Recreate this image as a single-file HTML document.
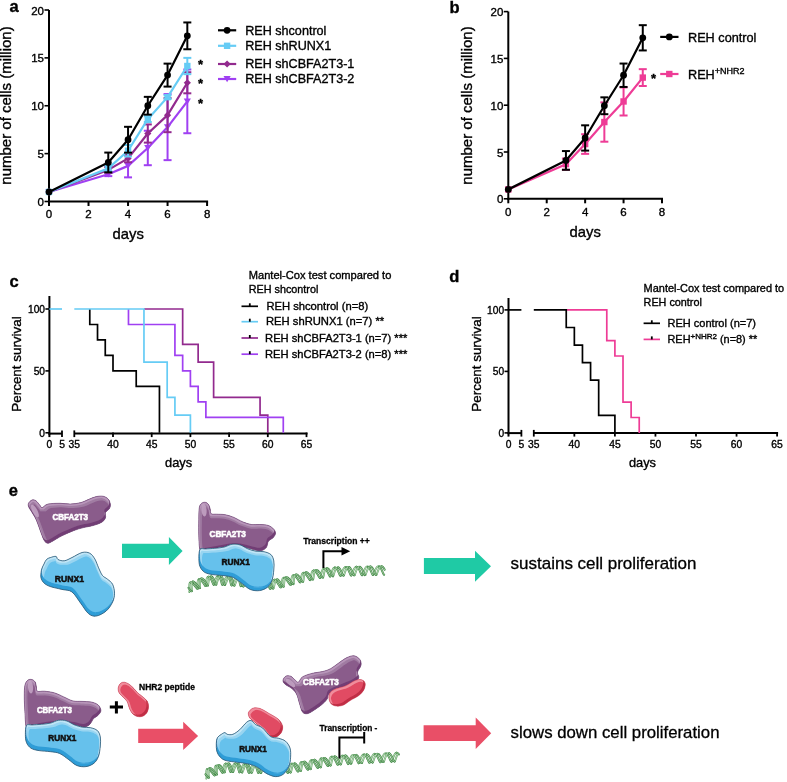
<!DOCTYPE html>
<html><head><meta charset="utf-8"><style>
html,body{margin:0;padding:0;background:#fff;width:787px;height:782px;overflow:hidden}
svg{display:block;will-change:transform}
text{font-family:"Liberation Sans",sans-serif}
.ch text{stroke:#000;stroke-width:0.35px}
</style></head><body>
<svg width="787" height="782" viewBox="0 0 787 782" font-family="Liberation Sans">
<rect width="787" height="782" fill="#fff"/>
<g class="ch">
<text x="9.40" y="12.20" font-size="16.5" text-anchor="start" font-weight="bold" fill="#000" >a</text>
<text x="449.60" y="12.70" font-size="16.5" text-anchor="start" font-weight="bold" fill="#000" >b</text>
<text x="9.60" y="287.00" font-size="16.5" text-anchor="start" font-weight="bold" fill="#000" >c</text>
<text x="449.20" y="282.00" font-size="16.5" text-anchor="start" font-weight="bold" fill="#000" >d</text>
<text x="8.80" y="495.50" font-size="16.5" text-anchor="start" font-weight="bold" fill="#000" >e</text>
<line x1="49.00" y1="10.00" x2="49.00" y2="202.50" stroke="#000" stroke-width="2" stroke-linecap="butt"/>
<line x1="48.00" y1="201.50" x2="208.08" y2="201.50" stroke="#000" stroke-width="2" stroke-linecap="butt"/>
<line x1="44.50" y1="201.50" x2="49.00" y2="201.50" stroke="#000" stroke-width="1.6" stroke-linecap="butt"/>
<text x="44.00" y="206.10" font-size="11.5" text-anchor="end" font-weight="normal" fill="#000" >0</text>
<line x1="44.50" y1="153.62" x2="49.00" y2="153.62" stroke="#000" stroke-width="1.6" stroke-linecap="butt"/>
<text x="44.00" y="158.22" font-size="11.5" text-anchor="end" font-weight="normal" fill="#000" >5</text>
<line x1="44.50" y1="105.75" x2="49.00" y2="105.75" stroke="#000" stroke-width="1.6" stroke-linecap="butt"/>
<text x="44.00" y="110.35" font-size="11.5" text-anchor="end" font-weight="normal" fill="#000" >10</text>
<line x1="44.50" y1="57.88" x2="49.00" y2="57.88" stroke="#000" stroke-width="1.6" stroke-linecap="butt"/>
<text x="44.00" y="62.48" font-size="11.5" text-anchor="end" font-weight="normal" fill="#000" >15</text>
<line x1="44.50" y1="10.00" x2="49.00" y2="10.00" stroke="#000" stroke-width="1.6" stroke-linecap="butt"/>
<text x="44.00" y="14.60" font-size="11.5" text-anchor="end" font-weight="normal" fill="#000" >20</text>
<line x1="49.00" y1="201.50" x2="49.00" y2="206.00" stroke="#000" stroke-width="2" stroke-linecap="butt"/>
<text x="49.00" y="217.80" font-size="11.5" text-anchor="middle" font-weight="normal" fill="#000" >0</text>
<line x1="88.52" y1="201.50" x2="88.52" y2="206.00" stroke="#000" stroke-width="2" stroke-linecap="butt"/>
<text x="88.52" y="217.80" font-size="11.5" text-anchor="middle" font-weight="normal" fill="#000" >2</text>
<line x1="128.04" y1="201.50" x2="128.04" y2="206.00" stroke="#000" stroke-width="2" stroke-linecap="butt"/>
<text x="128.04" y="217.80" font-size="11.5" text-anchor="middle" font-weight="normal" fill="#000" >4</text>
<line x1="167.56" y1="201.50" x2="167.56" y2="206.00" stroke="#000" stroke-width="2" stroke-linecap="butt"/>
<text x="167.56" y="217.80" font-size="11.5" text-anchor="middle" font-weight="normal" fill="#000" >6</text>
<line x1="207.08" y1="201.50" x2="207.08" y2="206.00" stroke="#000" stroke-width="2" stroke-linecap="butt"/>
<text x="207.08" y="217.80" font-size="11.5" text-anchor="middle" font-weight="normal" fill="#000" >8</text>
<text x="128.20" y="238.70" font-size="14.8" text-anchor="middle" font-weight="normal" fill="#000" >days</text>
<text x="10.9" y="105.5" font-size="15" text-anchor="middle" transform="rotate(-90 10.9 105.5)">number of cells (million)</text>
<line x1="108.28" y1="172.30" x2="108.28" y2="176.13" stroke="#A040F2" stroke-width="2" stroke-linecap="butt"/>
<line x1="104.28" y1="172.30" x2="112.28" y2="172.30" stroke="#A040F2" stroke-width="2" stroke-linecap="butt"/>
<line x1="104.28" y1="176.13" x2="112.28" y2="176.13" stroke="#A040F2" stroke-width="2" stroke-linecap="butt"/>
<line x1="128.04" y1="154.39" x2="128.04" y2="177.37" stroke="#A040F2" stroke-width="2" stroke-linecap="butt"/>
<line x1="124.04" y1="154.39" x2="132.04" y2="154.39" stroke="#A040F2" stroke-width="2" stroke-linecap="butt"/>
<line x1="124.04" y1="177.37" x2="132.04" y2="177.37" stroke="#A040F2" stroke-width="2" stroke-linecap="butt"/>
<line x1="147.80" y1="130.74" x2="147.80" y2="165.21" stroke="#A040F2" stroke-width="2" stroke-linecap="butt"/>
<line x1="143.80" y1="130.74" x2="151.80" y2="130.74" stroke="#A040F2" stroke-width="2" stroke-linecap="butt"/>
<line x1="143.80" y1="165.21" x2="151.80" y2="165.21" stroke="#A040F2" stroke-width="2" stroke-linecap="butt"/>
<line x1="167.56" y1="94.07" x2="167.56" y2="160.14" stroke="#A040F2" stroke-width="2" stroke-linecap="butt"/>
<line x1="163.56" y1="94.07" x2="171.56" y2="94.07" stroke="#A040F2" stroke-width="2" stroke-linecap="butt"/>
<line x1="163.56" y1="160.14" x2="171.56" y2="160.14" stroke="#A040F2" stroke-width="2" stroke-linecap="butt"/>
<line x1="187.32" y1="69.46" x2="187.32" y2="133.23" stroke="#A040F2" stroke-width="2" stroke-linecap="butt"/>
<line x1="183.32" y1="69.46" x2="191.32" y2="69.46" stroke="#A040F2" stroke-width="2" stroke-linecap="butt"/>
<line x1="183.32" y1="133.23" x2="191.32" y2="133.23" stroke="#A040F2" stroke-width="2" stroke-linecap="butt"/>
<polyline points="49.00,191.93 108.28,174.21 128.04,165.88 147.80,147.98 167.56,127.10 187.32,101.35" fill="none" stroke="#A040F2" stroke-width="2.2" stroke-linejoin="round"/>
<path d="M45.40,189.05 L52.60,189.05 L49.00,195.17Z" fill="#A040F2"/>
<path d="M104.68,171.33 L111.88,171.33 L108.28,177.45Z" fill="#A040F2"/>
<path d="M124.44,163.00 L131.64,163.00 L128.04,169.12Z" fill="#A040F2"/>
<path d="M144.20,145.10 L151.40,145.10 L147.80,151.22Z" fill="#A040F2"/>
<path d="M163.96,124.22 L171.16,124.22 L167.56,130.34Z" fill="#A040F2"/>
<path d="M183.72,98.47 L190.92,98.47 L187.32,104.59Z" fill="#A040F2"/>
<line x1="108.28" y1="167.03" x2="108.28" y2="172.78" stroke="#922A8E" stroke-width="2" stroke-linecap="butt"/>
<line x1="104.28" y1="167.03" x2="112.28" y2="167.03" stroke="#922A8E" stroke-width="2" stroke-linecap="butt"/>
<line x1="104.28" y1="172.78" x2="112.28" y2="172.78" stroke="#922A8E" stroke-width="2" stroke-linecap="butt"/>
<line x1="128.04" y1="154.58" x2="128.04" y2="162.24" stroke="#922A8E" stroke-width="2" stroke-linecap="butt"/>
<line x1="124.04" y1="154.58" x2="132.04" y2="154.58" stroke="#922A8E" stroke-width="2" stroke-linecap="butt"/>
<line x1="124.04" y1="162.24" x2="132.04" y2="162.24" stroke="#922A8E" stroke-width="2" stroke-linecap="butt"/>
<line x1="147.80" y1="124.42" x2="147.80" y2="142.61" stroke="#922A8E" stroke-width="2" stroke-linecap="butt"/>
<line x1="143.80" y1="124.42" x2="151.80" y2="124.42" stroke="#922A8E" stroke-width="2" stroke-linecap="butt"/>
<line x1="143.80" y1="142.61" x2="151.80" y2="142.61" stroke="#922A8E" stroke-width="2" stroke-linecap="butt"/>
<line x1="167.56" y1="98.09" x2="167.56" y2="132.18" stroke="#922A8E" stroke-width="2" stroke-linecap="butt"/>
<line x1="163.56" y1="98.09" x2="171.56" y2="98.09" stroke="#922A8E" stroke-width="2" stroke-linecap="butt"/>
<line x1="163.56" y1="132.18" x2="171.56" y2="132.18" stroke="#922A8E" stroke-width="2" stroke-linecap="butt"/>
<line x1="187.32" y1="72.24" x2="187.32" y2="93.30" stroke="#922A8E" stroke-width="2" stroke-linecap="butt"/>
<line x1="183.32" y1="72.24" x2="191.32" y2="72.24" stroke="#922A8E" stroke-width="2" stroke-linecap="butt"/>
<line x1="183.32" y1="93.30" x2="191.32" y2="93.30" stroke="#922A8E" stroke-width="2" stroke-linecap="butt"/>
<polyline points="49.00,191.93 108.28,169.90 128.04,158.41 147.80,133.52 167.56,115.13 187.32,82.77" fill="none" stroke="#922A8E" stroke-width="2.2" stroke-linejoin="round"/>
<path d="M49.00,188.33 L52.60,191.93 L49.00,195.53 L45.40,191.93Z" fill="#922A8E"/>
<path d="M108.28,166.30 L111.88,169.90 L108.28,173.50 L104.68,169.90Z" fill="#922A8E"/>
<path d="M128.04,154.81 L131.64,158.41 L128.04,162.01 L124.44,158.41Z" fill="#922A8E"/>
<path d="M147.80,129.92 L151.40,133.52 L147.80,137.12 L144.20,133.52Z" fill="#922A8E"/>
<path d="M167.56,111.53 L171.16,115.13 L167.56,118.73 L163.96,115.13Z" fill="#922A8E"/>
<path d="M187.32,79.17 L190.92,82.77 L187.32,86.37 L183.72,82.77Z" fill="#922A8E"/>
<line x1="108.28" y1="165.50" x2="108.28" y2="171.24" stroke="#66CCF5" stroke-width="2" stroke-linecap="butt"/>
<line x1="104.28" y1="165.50" x2="112.28" y2="165.50" stroke="#66CCF5" stroke-width="2" stroke-linecap="butt"/>
<line x1="104.28" y1="171.24" x2="112.28" y2="171.24" stroke="#66CCF5" stroke-width="2" stroke-linecap="butt"/>
<line x1="128.04" y1="145.01" x2="128.04" y2="156.50" stroke="#66CCF5" stroke-width="2" stroke-linecap="butt"/>
<line x1="124.04" y1="145.01" x2="132.04" y2="145.01" stroke="#66CCF5" stroke-width="2" stroke-linecap="butt"/>
<line x1="124.04" y1="156.50" x2="132.04" y2="156.50" stroke="#66CCF5" stroke-width="2" stroke-linecap="butt"/>
<line x1="147.80" y1="116.28" x2="147.80" y2="122.03" stroke="#66CCF5" stroke-width="2" stroke-linecap="butt"/>
<line x1="143.80" y1="116.28" x2="151.80" y2="116.28" stroke="#66CCF5" stroke-width="2" stroke-linecap="butt"/>
<line x1="143.80" y1="122.03" x2="151.80" y2="122.03" stroke="#66CCF5" stroke-width="2" stroke-linecap="butt"/>
<line x1="167.56" y1="95.22" x2="167.56" y2="99.05" stroke="#66CCF5" stroke-width="2" stroke-linecap="butt"/>
<line x1="163.56" y1="95.22" x2="171.56" y2="95.22" stroke="#66CCF5" stroke-width="2" stroke-linecap="butt"/>
<line x1="163.56" y1="99.05" x2="171.56" y2="99.05" stroke="#66CCF5" stroke-width="2" stroke-linecap="butt"/>
<line x1="187.32" y1="57.88" x2="187.32" y2="74.15" stroke="#66CCF5" stroke-width="2" stroke-linecap="butt"/>
<line x1="183.32" y1="57.88" x2="191.32" y2="57.88" stroke="#66CCF5" stroke-width="2" stroke-linecap="butt"/>
<line x1="183.32" y1="74.15" x2="191.32" y2="74.15" stroke="#66CCF5" stroke-width="2" stroke-linecap="butt"/>
<polyline points="49.00,191.93 108.28,168.37 128.04,150.75 147.80,119.16 167.56,97.13 187.32,66.01" fill="none" stroke="#66CCF5" stroke-width="2.2" stroke-linejoin="round"/>
<rect x="45.80" y="188.73" width="6.4" height="6.4" fill="#66CCF5"/>
<rect x="105.08" y="165.17" width="6.4" height="6.4" fill="#66CCF5"/>
<rect x="124.84" y="147.55" width="6.4" height="6.4" fill="#66CCF5"/>
<rect x="144.60" y="115.96" width="6.4" height="6.4" fill="#66CCF5"/>
<rect x="164.36" y="93.93" width="6.4" height="6.4" fill="#66CCF5"/>
<rect x="184.12" y="62.81" width="6.4" height="6.4" fill="#66CCF5"/>
<line x1="108.28" y1="152.57" x2="108.28" y2="172.30" stroke="#000000" stroke-width="2" stroke-linecap="butt"/>
<line x1="104.28" y1="152.57" x2="112.28" y2="152.57" stroke="#000000" stroke-width="2" stroke-linecap="butt"/>
<line x1="104.28" y1="172.30" x2="112.28" y2="172.30" stroke="#000000" stroke-width="2" stroke-linecap="butt"/>
<line x1="128.04" y1="126.81" x2="128.04" y2="152.67" stroke="#000000" stroke-width="2" stroke-linecap="butt"/>
<line x1="124.04" y1="126.81" x2="132.04" y2="126.81" stroke="#000000" stroke-width="2" stroke-linecap="butt"/>
<line x1="124.04" y1="152.67" x2="132.04" y2="152.67" stroke="#000000" stroke-width="2" stroke-linecap="butt"/>
<line x1="147.80" y1="96.85" x2="147.80" y2="114.65" stroke="#000000" stroke-width="2" stroke-linecap="butt"/>
<line x1="143.80" y1="96.85" x2="151.80" y2="96.85" stroke="#000000" stroke-width="2" stroke-linecap="butt"/>
<line x1="143.80" y1="114.65" x2="151.80" y2="114.65" stroke="#000000" stroke-width="2" stroke-linecap="butt"/>
<line x1="167.56" y1="63.62" x2="167.56" y2="86.60" stroke="#000000" stroke-width="2" stroke-linecap="butt"/>
<line x1="163.56" y1="63.62" x2="171.56" y2="63.62" stroke="#000000" stroke-width="2" stroke-linecap="butt"/>
<line x1="163.56" y1="86.60" x2="171.56" y2="86.60" stroke="#000000" stroke-width="2" stroke-linecap="butt"/>
<line x1="187.32" y1="22.45" x2="187.32" y2="49.26" stroke="#000000" stroke-width="2" stroke-linecap="butt"/>
<line x1="183.32" y1="22.45" x2="191.32" y2="22.45" stroke="#000000" stroke-width="2" stroke-linecap="butt"/>
<line x1="183.32" y1="49.26" x2="191.32" y2="49.26" stroke="#000000" stroke-width="2" stroke-linecap="butt"/>
<polyline points="49.00,191.93 108.28,162.43 128.04,139.74 147.80,105.75 167.56,75.11 187.32,35.85" fill="none" stroke="#000000" stroke-width="2.2" stroke-linejoin="round"/>
<circle cx="49.00" cy="191.93" r="3.4" fill="#000000"/>
<circle cx="108.28" cy="162.43" r="3.4" fill="#000000"/>
<circle cx="128.04" cy="139.74" r="3.4" fill="#000000"/>
<circle cx="147.80" cy="105.75" r="3.4" fill="#000000"/>
<circle cx="167.56" cy="75.11" r="3.4" fill="#000000"/>
<circle cx="187.32" cy="35.85" r="3.4" fill="#000000"/>
<text x="200.60" y="68.90" font-size="13" text-anchor="middle" font-weight="bold" fill="#000" >*</text>
<text x="200.60" y="88.30" font-size="13" text-anchor="middle" font-weight="bold" fill="#000" >*</text>
<text x="200.60" y="108.00" font-size="13" text-anchor="middle" font-weight="bold" fill="#000" >*</text>
<line x1="218.00" y1="30.30" x2="236.20" y2="30.30" stroke="#000000" stroke-width="2.2" stroke-linecap="butt"/>
<circle cx="227.10" cy="30.30" r="3.4" fill="#000000"/>
<text x="245.20" y="34.80" font-size="12.6" text-anchor="start" font-weight="normal" fill="#000" >REH shcontrol</text>
<line x1="218.00" y1="45.80" x2="236.20" y2="45.80" stroke="#66CCF5" stroke-width="2.2" stroke-linecap="butt"/>
<rect x="223.90" y="42.60" width="6.4" height="6.4" fill="#66CCF5"/>
<text x="245.20" y="50.10" font-size="12.6" text-anchor="start" font-weight="normal" fill="#000" >REH shRUNX1</text>
<line x1="218.00" y1="64.00" x2="236.20" y2="64.00" stroke="#922A8E" stroke-width="2.2" stroke-linecap="butt"/>
<path d="M227.10,60.40 L230.70,64.00 L227.10,67.60 L223.50,64.00Z" fill="#922A8E"/>
<text x="245.20" y="68.10" font-size="12.6" text-anchor="start" font-weight="normal" fill="#000" >REH shCBFA2T3-1</text>
<line x1="218.00" y1="79.00" x2="236.20" y2="79.00" stroke="#A040F2" stroke-width="2.2" stroke-linecap="butt"/>
<path d="M223.50,76.12 L230.70,76.12 L227.10,82.24Z" fill="#A040F2"/>
<text x="245.20" y="83.00" font-size="12.6" text-anchor="start" font-weight="normal" fill="#000" >REH shCBFA2T3-2</text>
<line x1="508.30" y1="11.60" x2="508.30" y2="199.80" stroke="#000" stroke-width="2" stroke-linecap="butt"/>
<line x1="507.30" y1="198.80" x2="662.98" y2="198.80" stroke="#000" stroke-width="2" stroke-linecap="butt"/>
<line x1="503.80" y1="198.80" x2="508.30" y2="198.80" stroke="#000" stroke-width="1.6" stroke-linecap="butt"/>
<text x="503.30" y="203.40" font-size="11.5" text-anchor="end" font-weight="normal" fill="#000" >0</text>
<line x1="503.80" y1="152.00" x2="508.30" y2="152.00" stroke="#000" stroke-width="1.6" stroke-linecap="butt"/>
<text x="503.30" y="156.60" font-size="11.5" text-anchor="end" font-weight="normal" fill="#000" >5</text>
<line x1="503.80" y1="105.20" x2="508.30" y2="105.20" stroke="#000" stroke-width="1.6" stroke-linecap="butt"/>
<text x="503.30" y="109.80" font-size="11.5" text-anchor="end" font-weight="normal" fill="#000" >10</text>
<line x1="503.80" y1="58.40" x2="508.30" y2="58.40" stroke="#000" stroke-width="1.6" stroke-linecap="butt"/>
<text x="503.30" y="63.00" font-size="11.5" text-anchor="end" font-weight="normal" fill="#000" >15</text>
<line x1="503.80" y1="11.60" x2="508.30" y2="11.60" stroke="#000" stroke-width="1.6" stroke-linecap="butt"/>
<text x="503.30" y="16.20" font-size="11.5" text-anchor="end" font-weight="normal" fill="#000" >20</text>
<line x1="508.30" y1="198.80" x2="508.30" y2="203.30" stroke="#000" stroke-width="2" stroke-linecap="butt"/>
<text x="508.30" y="215.80" font-size="11.5" text-anchor="middle" font-weight="normal" fill="#000" >0</text>
<line x1="546.72" y1="198.80" x2="546.72" y2="203.30" stroke="#000" stroke-width="2" stroke-linecap="butt"/>
<text x="546.72" y="215.80" font-size="11.5" text-anchor="middle" font-weight="normal" fill="#000" >2</text>
<line x1="585.14" y1="198.80" x2="585.14" y2="203.30" stroke="#000" stroke-width="2" stroke-linecap="butt"/>
<text x="585.14" y="215.80" font-size="11.5" text-anchor="middle" font-weight="normal" fill="#000" >4</text>
<line x1="623.56" y1="198.80" x2="623.56" y2="203.30" stroke="#000" stroke-width="2" stroke-linecap="butt"/>
<text x="623.56" y="215.80" font-size="11.5" text-anchor="middle" font-weight="normal" fill="#000" >6</text>
<line x1="661.98" y1="198.80" x2="661.98" y2="203.30" stroke="#000" stroke-width="2" stroke-linecap="butt"/>
<text x="661.98" y="215.80" font-size="11.5" text-anchor="middle" font-weight="normal" fill="#000" >8</text>
<text x="585.20" y="237.20" font-size="14.8" text-anchor="middle" font-weight="normal" fill="#000" >days</text>
<text x="472.4" y="105.5" font-size="15" text-anchor="middle" transform="rotate(-90 472.4 105.5)">number of cells (million)</text>
<line x1="565.93" y1="158.55" x2="565.93" y2="169.78" stroke="#EE3C96" stroke-width="2" stroke-linecap="butt"/>
<line x1="561.93" y1="158.55" x2="569.93" y2="158.55" stroke="#EE3C96" stroke-width="2" stroke-linecap="butt"/>
<line x1="561.93" y1="169.78" x2="569.93" y2="169.78" stroke="#EE3C96" stroke-width="2" stroke-linecap="butt"/>
<line x1="585.14" y1="134.22" x2="585.14" y2="153.87" stroke="#EE3C96" stroke-width="2" stroke-linecap="butt"/>
<line x1="581.14" y1="134.22" x2="589.14" y2="134.22" stroke="#EE3C96" stroke-width="2" stroke-linecap="butt"/>
<line x1="581.14" y1="153.87" x2="589.14" y2="153.87" stroke="#EE3C96" stroke-width="2" stroke-linecap="butt"/>
<line x1="604.35" y1="102.39" x2="604.35" y2="141.70" stroke="#EE3C96" stroke-width="2" stroke-linecap="butt"/>
<line x1="600.35" y1="102.39" x2="608.35" y2="102.39" stroke="#EE3C96" stroke-width="2" stroke-linecap="butt"/>
<line x1="600.35" y1="141.70" x2="608.35" y2="141.70" stroke="#EE3C96" stroke-width="2" stroke-linecap="butt"/>
<line x1="623.56" y1="87.42" x2="623.56" y2="115.50" stroke="#EE3C96" stroke-width="2" stroke-linecap="butt"/>
<line x1="619.56" y1="87.42" x2="627.56" y2="87.42" stroke="#EE3C96" stroke-width="2" stroke-linecap="butt"/>
<line x1="619.56" y1="115.50" x2="627.56" y2="115.50" stroke="#EE3C96" stroke-width="2" stroke-linecap="butt"/>
<line x1="642.77" y1="69.16" x2="642.77" y2="86.01" stroke="#EE3C96" stroke-width="2" stroke-linecap="butt"/>
<line x1="638.77" y1="69.16" x2="646.77" y2="69.16" stroke="#EE3C96" stroke-width="2" stroke-linecap="butt"/>
<line x1="638.77" y1="86.01" x2="646.77" y2="86.01" stroke="#EE3C96" stroke-width="2" stroke-linecap="butt"/>
<polyline points="508.30,189.44 565.93,164.17 585.14,144.04 604.35,122.05 623.56,101.46 642.77,77.59" fill="none" stroke="#EE3C96" stroke-width="2.2" stroke-linejoin="round"/>
<rect x="505.10" y="186.24" width="6.4" height="6.4" fill="#EE3C96"/>
<rect x="562.73" y="160.97" width="6.4" height="6.4" fill="#EE3C96"/>
<rect x="581.94" y="140.84" width="6.4" height="6.4" fill="#EE3C96"/>
<rect x="601.15" y="118.85" width="6.4" height="6.4" fill="#EE3C96"/>
<rect x="620.36" y="98.26" width="6.4" height="6.4" fill="#EE3C96"/>
<rect x="639.57" y="74.39" width="6.4" height="6.4" fill="#EE3C96"/>
<line x1="565.93" y1="151.06" x2="565.93" y2="169.78" stroke="#000000" stroke-width="2" stroke-linecap="butt"/>
<line x1="561.93" y1="151.06" x2="569.93" y2="151.06" stroke="#000000" stroke-width="2" stroke-linecap="butt"/>
<line x1="561.93" y1="169.78" x2="569.93" y2="169.78" stroke="#000000" stroke-width="2" stroke-linecap="butt"/>
<line x1="585.14" y1="125.32" x2="585.14" y2="150.60" stroke="#000000" stroke-width="2" stroke-linecap="butt"/>
<line x1="581.14" y1="125.32" x2="589.14" y2="125.32" stroke="#000000" stroke-width="2" stroke-linecap="butt"/>
<line x1="581.14" y1="150.60" x2="589.14" y2="150.60" stroke="#000000" stroke-width="2" stroke-linecap="butt"/>
<line x1="604.35" y1="97.34" x2="604.35" y2="114.19" stroke="#000000" stroke-width="2" stroke-linecap="butt"/>
<line x1="600.35" y1="97.34" x2="608.35" y2="97.34" stroke="#000000" stroke-width="2" stroke-linecap="butt"/>
<line x1="600.35" y1="114.19" x2="608.35" y2="114.19" stroke="#000000" stroke-width="2" stroke-linecap="butt"/>
<line x1="623.56" y1="63.55" x2="623.56" y2="86.95" stroke="#000000" stroke-width="2" stroke-linecap="butt"/>
<line x1="619.56" y1="63.55" x2="627.56" y2="63.55" stroke="#000000" stroke-width="2" stroke-linecap="butt"/>
<line x1="619.56" y1="86.95" x2="627.56" y2="86.95" stroke="#000000" stroke-width="2" stroke-linecap="butt"/>
<line x1="642.77" y1="25.17" x2="642.77" y2="50.44" stroke="#000000" stroke-width="2" stroke-linecap="butt"/>
<line x1="638.77" y1="25.17" x2="646.77" y2="25.17" stroke="#000000" stroke-width="2" stroke-linecap="butt"/>
<line x1="638.77" y1="50.44" x2="646.77" y2="50.44" stroke="#000000" stroke-width="2" stroke-linecap="butt"/>
<polyline points="508.30,189.44 565.93,160.42 585.14,137.96 604.35,105.76 623.56,75.25 642.77,37.81" fill="none" stroke="#000000" stroke-width="2.2" stroke-linejoin="round"/>
<circle cx="508.30" cy="189.44" r="3.4" fill="#000000"/>
<circle cx="565.93" cy="160.42" r="3.4" fill="#000000"/>
<circle cx="585.14" cy="137.96" r="3.4" fill="#000000"/>
<circle cx="604.35" cy="105.76" r="3.4" fill="#000000"/>
<circle cx="623.56" cy="75.25" r="3.4" fill="#000000"/>
<circle cx="642.77" cy="37.81" r="3.4" fill="#000000"/>
<text x="653.60" y="83.00" font-size="13" text-anchor="middle" font-weight="bold" fill="#000" >*</text>
<line x1="660.20" y1="36.90" x2="678.50" y2="36.90" stroke="#000" stroke-width="2.2" stroke-linecap="butt"/>
<circle cx="669.30" cy="36.90" r="3.4" fill="#000000"/>
<line x1="660.20" y1="74.00" x2="678.50" y2="74.00" stroke="#EE3C96" stroke-width="2.2" stroke-linecap="butt"/>
<rect x="666.10" y="70.80" width="6.4" height="6.4" fill="#EE3C96"/>
<text x="688.00" y="41.50" font-size="12.7" text-anchor="start" font-weight="normal" fill="#000" >REH control</text>
<text x="688.00" y="78.60" font-size="12.7" text-anchor="start" font-weight="normal" fill="#000" >REH<tspan font-size="9" dy="-4.6">+NHR2</tspan></text>
<line x1="49.40" y1="296.00" x2="49.40" y2="434.60" stroke="#000" stroke-width="2" stroke-linecap="butt"/>
<line x1="48.40" y1="433.60" x2="62.00" y2="433.60" stroke="#000" stroke-width="2" stroke-linecap="butt"/>
<line x1="74.30" y1="433.60" x2="307.50" y2="433.60" stroke="#000" stroke-width="2" stroke-linecap="butt"/>
<line x1="45.40" y1="432.80" x2="49.40" y2="432.80" stroke="#000" stroke-width="1.6" stroke-linecap="butt"/>
<text x="45.00" y="436.50" font-size="10.2" text-anchor="end" font-weight="normal" fill="#000" >0</text>
<line x1="45.40" y1="370.90" x2="49.40" y2="370.90" stroke="#000" stroke-width="1.6" stroke-linecap="butt"/>
<text x="45.00" y="374.60" font-size="10.2" text-anchor="end" font-weight="normal" fill="#000" >50</text>
<line x1="45.40" y1="309.00" x2="49.40" y2="309.00" stroke="#000" stroke-width="1.6" stroke-linecap="butt"/>
<text x="45.00" y="312.70" font-size="10.2" text-anchor="end" font-weight="normal" fill="#000" >100</text>
<line x1="62.00" y1="430.40" x2="62.00" y2="437.10" stroke="#000" stroke-width="1.8" stroke-linecap="butt"/>
<line x1="74.30" y1="430.40" x2="74.30" y2="437.10" stroke="#000" stroke-width="1.8" stroke-linecap="butt"/>
<line x1="49.40" y1="433.60" x2="49.40" y2="437.10" stroke="#000" stroke-width="2" stroke-linecap="butt"/>
<text x="49.40" y="448.00" font-size="10.3" text-anchor="middle" font-weight="normal" fill="#000" >0</text>
<text x="62.00" y="448.00" font-size="10.3" text-anchor="middle" font-weight="normal" fill="#000" >5</text>
<text x="74.30" y="448.00" font-size="10.3" text-anchor="middle" font-weight="normal" fill="#000" >35</text>
<line x1="113.00" y1="432.60" x2="113.00" y2="437.10" stroke="#000" stroke-width="1.8" stroke-linecap="butt"/>
<text x="113.00" y="448.00" font-size="10.3" text-anchor="middle" font-weight="normal" fill="#000" >40</text>
<line x1="151.70" y1="432.60" x2="151.70" y2="437.10" stroke="#000" stroke-width="1.8" stroke-linecap="butt"/>
<text x="151.70" y="448.00" font-size="10.3" text-anchor="middle" font-weight="normal" fill="#000" >45</text>
<line x1="190.40" y1="432.60" x2="190.40" y2="437.10" stroke="#000" stroke-width="1.8" stroke-linecap="butt"/>
<text x="190.40" y="448.00" font-size="10.3" text-anchor="middle" font-weight="normal" fill="#000" >50</text>
<line x1="229.10" y1="432.60" x2="229.10" y2="437.10" stroke="#000" stroke-width="1.8" stroke-linecap="butt"/>
<text x="229.10" y="448.00" font-size="10.3" text-anchor="middle" font-weight="normal" fill="#000" >55</text>
<line x1="267.80" y1="432.60" x2="267.80" y2="437.10" stroke="#000" stroke-width="1.8" stroke-linecap="butt"/>
<text x="267.80" y="448.00" font-size="10.3" text-anchor="middle" font-weight="normal" fill="#000" >60</text>
<line x1="306.50" y1="432.60" x2="306.50" y2="437.10" stroke="#000" stroke-width="1.8" stroke-linecap="butt"/>
<text x="306.50" y="448.00" font-size="10.3" text-anchor="middle" font-weight="normal" fill="#000" >65</text>
<text x="178.60" y="467.30" font-size="12.8" text-anchor="middle" font-weight="normal" fill="#000" >days</text>
<text x="20.8" y="364" font-size="13.4" text-anchor="middle" transform="rotate(-90 20.8 364)">Percent survival</text>
<polyline points="89.78,309.00 89.78,309.00 89.78,324.48 97.52,324.48 97.52,339.95 105.26,339.95 105.26,355.43 113.00,355.43 113.00,370.90 136.22,370.90 136.22,386.38 159.44,386.38 159.44,432.80" fill="none" stroke="#000000" stroke-width="1.7" stroke-linejoin="miter"/>
<polyline points="143.96,309.00 182.66,309.00 182.66,344.37 198.14,344.37 198.14,362.06 213.62,362.06 213.62,397.43 260.06,397.43 260.06,415.11 267.80,415.11 267.80,432.80" fill="none" stroke="#922A8E" stroke-width="1.7" stroke-linejoin="miter"/>
<polyline points="128.48,309.00 128.48,309.00 128.48,324.48 174.92,324.48 174.92,355.43 182.66,355.43 182.66,370.90 190.40,370.90 190.40,386.38 198.14,386.38 198.14,401.85 205.88,401.85 205.88,417.32 283.28,417.32 283.28,432.80" fill="none" stroke="#A040F2" stroke-width="1.7" stroke-linejoin="miter"/>
<polyline points="49.40,309.00 62.00,309.00" fill="none" stroke="#66CCF5" stroke-width="1.7" stroke-linejoin="miter"/>
<polyline points="74.30,309.00 143.96,309.00 143.96,362.06 167.18,362.06 167.18,397.43 174.92,397.43 174.92,415.11 190.40,415.11 190.40,432.80" fill="none" stroke="#66CCF5" stroke-width="1.7" stroke-linejoin="miter"/>
<line x1="508.50" y1="298.00" x2="508.50" y2="434.10" stroke="#000" stroke-width="2" stroke-linecap="butt"/>
<line x1="507.50" y1="433.10" x2="521.40" y2="433.10" stroke="#000" stroke-width="2" stroke-linecap="butt"/>
<line x1="533.80" y1="433.10" x2="778.10" y2="433.10" stroke="#000" stroke-width="2" stroke-linecap="butt"/>
<line x1="504.50" y1="432.90" x2="508.50" y2="432.90" stroke="#000" stroke-width="1.6" stroke-linecap="butt"/>
<text x="504.10" y="436.60" font-size="10.2" text-anchor="end" font-weight="normal" fill="#000" >0</text>
<line x1="504.50" y1="371.40" x2="508.50" y2="371.40" stroke="#000" stroke-width="1.6" stroke-linecap="butt"/>
<text x="504.10" y="375.10" font-size="10.2" text-anchor="end" font-weight="normal" fill="#000" >50</text>
<line x1="504.50" y1="309.90" x2="508.50" y2="309.90" stroke="#000" stroke-width="1.6" stroke-linecap="butt"/>
<text x="504.10" y="313.60" font-size="10.2" text-anchor="end" font-weight="normal" fill="#000" >100</text>
<line x1="521.40" y1="429.90" x2="521.40" y2="436.60" stroke="#000" stroke-width="1.8" stroke-linecap="butt"/>
<line x1="533.80" y1="429.90" x2="533.80" y2="436.60" stroke="#000" stroke-width="1.8" stroke-linecap="butt"/>
<line x1="508.50" y1="433.10" x2="508.50" y2="436.60" stroke="#000" stroke-width="2" stroke-linecap="butt"/>
<text x="508.50" y="448.00" font-size="10.3" text-anchor="middle" font-weight="normal" fill="#000" >0</text>
<text x="521.40" y="448.00" font-size="10.3" text-anchor="middle" font-weight="normal" fill="#000" >5</text>
<text x="533.80" y="448.00" font-size="10.3" text-anchor="middle" font-weight="normal" fill="#000" >35</text>
<line x1="574.35" y1="432.10" x2="574.35" y2="436.60" stroke="#000" stroke-width="1.8" stroke-linecap="butt"/>
<text x="574.35" y="448.00" font-size="10.3" text-anchor="middle" font-weight="normal" fill="#000" >40</text>
<line x1="614.90" y1="432.10" x2="614.90" y2="436.60" stroke="#000" stroke-width="1.8" stroke-linecap="butt"/>
<text x="614.90" y="448.00" font-size="10.3" text-anchor="middle" font-weight="normal" fill="#000" >45</text>
<line x1="655.45" y1="432.10" x2="655.45" y2="436.60" stroke="#000" stroke-width="1.8" stroke-linecap="butt"/>
<text x="655.45" y="448.00" font-size="10.3" text-anchor="middle" font-weight="normal" fill="#000" >50</text>
<line x1="696.00" y1="432.10" x2="696.00" y2="436.60" stroke="#000" stroke-width="1.8" stroke-linecap="butt"/>
<text x="696.00" y="448.00" font-size="10.3" text-anchor="middle" font-weight="normal" fill="#000" >55</text>
<line x1="736.55" y1="432.10" x2="736.55" y2="436.60" stroke="#000" stroke-width="1.8" stroke-linecap="butt"/>
<text x="736.55" y="448.00" font-size="10.3" text-anchor="middle" font-weight="normal" fill="#000" >60</text>
<line x1="777.10" y1="432.10" x2="777.10" y2="436.60" stroke="#000" stroke-width="1.8" stroke-linecap="butt"/>
<text x="777.10" y="448.00" font-size="10.3" text-anchor="middle" font-weight="normal" fill="#000" >65</text>
<text x="642.50" y="467.30" font-size="12.8" text-anchor="middle" font-weight="normal" fill="#000" >days</text>
<text x="480.5" y="364" font-size="13.4" text-anchor="middle" transform="rotate(-90 480.5 364)">Percent survival</text>
<polyline points="566.24,309.90 606.79,309.90 606.79,340.65 614.90,340.65 614.90,356.02 623.01,356.02 623.01,402.15 631.12,402.15 631.12,417.52 639.23,417.52 639.23,432.90" fill="none" stroke="#EE3C96" stroke-width="1.7" stroke-linejoin="miter"/>
<polyline points="508.50,309.90 521.40,309.90" fill="none" stroke="#000000" stroke-width="1.7" stroke-linejoin="miter"/>
<polyline points="533.80,309.90 566.24,309.90 566.24,327.48 574.35,327.48 574.35,345.04 582.46,345.04 582.46,362.62 590.57,362.62 590.57,380.18 598.68,380.18 598.68,415.32 614.90,415.32 614.90,432.90" fill="none" stroke="#000000" stroke-width="1.7" stroke-linejoin="miter"/>
<text x="248.70" y="279.30" font-size="10.8" text-anchor="start" font-weight="normal" fill="#000" textLength="142.7" lengthAdjust="spacingAndGlyphs">Mantel-Cox test compared to</text>
<text x="248.70" y="292.70" font-size="10.8" text-anchor="start" font-weight="normal" fill="#000" >REH shcontrol</text>
<line x1="241.50" y1="306.30" x2="258.00" y2="306.30" stroke="#000000" stroke-width="1.7" stroke-linecap="butt"/>
<line x1="249.80" y1="303.30" x2="249.80" y2="306.30" stroke="#000000" stroke-width="1.8" stroke-linecap="butt"/>
<text x="266.40" y="309.50" font-size="10.9" text-anchor="start" font-weight="normal" fill="#000" textLength="101.8" lengthAdjust="spacingAndGlyphs">REH shcontrol (n=8)</text>
<line x1="241.50" y1="321.70" x2="258.00" y2="321.70" stroke="#66CCF5" stroke-width="1.7" stroke-linecap="butt"/>
<line x1="249.80" y1="318.70" x2="249.80" y2="321.70" stroke="#000000" stroke-width="1.8" stroke-linecap="butt"/>
<text x="266.00" y="325.10" font-size="10.9" text-anchor="start" font-weight="normal" fill="#000" textLength="118.2" lengthAdjust="spacingAndGlyphs">REH shRUNX1 (n=7) **</text>
<line x1="241.50" y1="338.00" x2="258.00" y2="338.00" stroke="#922A8E" stroke-width="1.7" stroke-linecap="butt"/>
<line x1="249.80" y1="335.00" x2="249.80" y2="338.00" stroke="#000000" stroke-width="1.8" stroke-linecap="butt"/>
<text x="265.10" y="341.60" font-size="10.9" text-anchor="start" font-weight="normal" fill="#000" textLength="142.3" lengthAdjust="spacingAndGlyphs">REH shCBFA2T3-1 (n=7) ***</text>
<line x1="241.50" y1="354.20" x2="258.00" y2="354.20" stroke="#A040F2" stroke-width="1.7" stroke-linecap="butt"/>
<line x1="249.80" y1="351.20" x2="249.80" y2="354.20" stroke="#000000" stroke-width="1.8" stroke-linecap="butt"/>
<text x="265.00" y="358.00" font-size="10.9" text-anchor="start" font-weight="normal" fill="#000" textLength="142.4" lengthAdjust="spacingAndGlyphs">REH shCBFA2T3-2 (n=8) ***</text>
<text x="643.60" y="292.30" font-size="10.8" text-anchor="start" font-weight="normal" fill="#000" textLength="140.6" lengthAdjust="spacingAndGlyphs">Mantel-Cox test compared to</text>
<text x="643.60" y="305.50" font-size="10.8" text-anchor="start" font-weight="normal" fill="#000" >REH control</text>
<line x1="643.60" y1="323.30" x2="660.00" y2="323.30" stroke="#000000" stroke-width="1.7" stroke-linecap="butt"/>
<line x1="651.80" y1="320.30" x2="651.80" y2="323.30" stroke="#000000" stroke-width="1.8" stroke-linecap="butt"/>
<line x1="643.60" y1="339.40" x2="660.00" y2="339.40" stroke="#EE3C96" stroke-width="1.7" stroke-linecap="butt"/>
<line x1="651.80" y1="336.40" x2="651.80" y2="339.40" stroke="#000000" stroke-width="1.8" stroke-linecap="butt"/>
<text x="667.50" y="326.50" font-size="10.9" text-anchor="start" font-weight="normal" fill="#000" textLength="88.5" lengthAdjust="spacingAndGlyphs">REH control (n=7)</text>
<text x="667.50" y="342.80" font-size="10.9" text-anchor="start" font-weight="normal" fill="#000" >REH<tspan font-size="8" dy="-4">+NHR2</tspan><tspan dy="4"> (n=8) **</tspan></text>
</g>
<filter id="sh_blue" x="-10%" y="-10%" width="120%" height="120%"><feMorphology in="SourceAlpha" operator="erode" radius="1.6" result="e0"/><feOffset in="e0" dx="0.5" dy="2.2" result="o0"/><feComposite in="SourceAlpha" in2="o0" operator="out" result="r0"/><feFlood flood-color="#98D5F1"/><feComposite in2="r0" operator="in" result="c0"/><feMorphology in="SourceAlpha" operator="erode" radius="0.7" result="e1"/><feOffset in="e1" dx="0.4" dy="1.0" result="o1"/><feComposite in="SourceAlpha" in2="o1" operator="out" result="r1"/><feFlood flood-color="#C0E5F6"/><feComposite in2="r1" operator="in" result="c1"/><feOffset in="SourceAlpha" dx="0.6" dy="-3.6" result="o2"/><feComposite in="SourceAlpha" in2="o2" operator="out" result="r2"/><feFlood flood-color="#2E9DD7"/><feComposite in2="r2" operator="in" result="c2"/><feMerge><feMergeNode in="SourceGraphic"/><feMergeNode in="c0"/><feMergeNode in="c1"/><feMergeNode in="c2"/></feMerge></filter>
<filter id="sh_purple" x="-10%" y="-10%" width="120%" height="120%"><feMorphology in="SourceAlpha" operator="erode" radius="1.5" result="e0"/><feOffset in="e0" dx="0.8" dy="2.2" result="o0"/><feComposite in="SourceAlpha" in2="o0" operator="out" result="r0"/><feFlood flood-color="#A07BA2"/><feComposite in2="r0" operator="in" result="c0"/><feMorphology in="SourceAlpha" operator="erode" radius="0.6" result="e1"/><feOffset in="e1" dx="0.4" dy="1.0" result="o1"/><feComposite in="SourceAlpha" in2="o1" operator="out" result="r1"/><feFlood flood-color="#B896BA"/><feComposite in2="r1" operator="in" result="c1"/><feOffset in="SourceAlpha" dx="-1.5" dy="-2.8" result="o2"/><feComposite in="SourceAlpha" in2="o2" operator="out" result="r2"/><feFlood flood-color="#723D74"/><feComposite in2="r2" operator="in" result="c2"/><feMerge><feMergeNode in="SourceGraphic"/><feMergeNode in="c0"/><feMergeNode in="c1"/><feMergeNode in="c2"/></feMerge></filter>
<filter id="sh_red" x="-10%" y="-10%" width="120%" height="120%"><feMorphology in="SourceAlpha" operator="erode" radius="0.5" result="e0"/><feOffset in="e0" dx="1.0" dy="1.2" result="o0"/><feComposite in="SourceAlpha" in2="o0" operator="out" result="r0"/><feFlood flood-color="#F08D9C"/><feComposite in2="r0" operator="in" result="c0"/><feOffset in="SourceAlpha" dx="-1.6" dy="-1.8" result="o1"/><feComposite in="SourceAlpha" in2="o1" operator="out" result="r1"/><feFlood flood-color="#C02D44"/><feComposite in2="r1" operator="in" result="c1"/><feMerge><feMergeNode in="SourceGraphic"/><feMergeNode in="c0"/><feMergeNode in="c1"/></feMerge></filter>
<path d="M28.40,503.60 C28.88,502.35 30.65,500.58 31.90,500.10 C33.15,499.62 34.57,499.83 35.90,500.70 C37.23,501.57 38.85,504.15 39.90,505.30 C40.95,506.45 40.87,507.80 42.20,507.60 C43.53,507.40 44.93,504.82 47.90,504.10 C50.87,503.38 56.23,503.32 60.00,503.30 C63.77,503.28 67.00,504.12 70.50,504.00 C74.00,503.88 77.85,503.42 81.00,502.60 C84.15,501.78 86.85,500.10 89.40,499.10 C91.95,498.10 93.98,497.07 96.30,496.60 C98.62,496.13 101.32,495.88 103.30,496.30 C105.28,496.72 107.03,497.82 108.20,499.10 C109.37,500.38 110.08,502.43 110.30,504.00 C110.52,505.57 110.30,507.08 109.50,508.50 C108.70,509.92 106.18,510.92 105.50,512.50 C104.82,514.08 106.10,516.33 105.40,518.00 C104.70,519.67 103.47,521.22 101.30,522.50 C99.13,523.78 95.37,524.85 92.40,525.70 C89.43,526.55 86.67,526.77 83.50,527.60 C80.33,528.43 77.00,529.33 73.40,530.70 C69.80,532.07 65.30,534.10 61.90,535.80 C58.50,537.50 55.32,539.67 53.00,540.90 C50.68,542.13 49.43,543.23 48.00,543.20 C46.57,543.17 45.57,542.45 44.40,540.70 C43.23,538.95 42.33,536.12 41.00,532.70 C39.67,529.28 37.92,523.62 36.40,520.20 C34.88,516.78 33.13,514.30 31.90,512.20 C30.67,510.10 29.58,509.03 29.00,507.60 C28.42,506.17 27.92,504.85 28.40,503.60Z" fill="#8A5C8B" filter="url(#sh_purple)"/>
<ellipse cx="35" cy="511" rx="2.4" ry="7" transform="rotate(-28 35 511)" fill="#C4A6C6" opacity="0.85"/>
<path d="M28.40,503.60 C28.88,502.35 30.65,500.58 31.90,500.10 C33.15,499.62 34.57,499.83 35.90,500.70 C37.23,501.57 38.85,504.15 39.90,505.30 C40.95,506.45 40.87,507.80 42.20,507.60 C43.53,507.40 44.93,504.82 47.90,504.10 C50.87,503.38 56.23,503.32 60.00,503.30 C63.77,503.28 67.00,504.12 70.50,504.00 C74.00,503.88 77.85,503.42 81.00,502.60 C84.15,501.78 86.85,500.10 89.40,499.10 C91.95,498.10 93.98,497.07 96.30,496.60 C98.62,496.13 101.32,495.88 103.30,496.30 C105.28,496.72 107.03,497.82 108.20,499.10 C109.37,500.38 110.08,502.43 110.30,504.00 C110.52,505.57 110.30,507.08 109.50,508.50 C108.70,509.92 106.18,510.92 105.50,512.50 C104.82,514.08 106.10,516.33 105.40,518.00 C104.70,519.67 103.47,521.22 101.30,522.50 C99.13,523.78 95.37,524.85 92.40,525.70 C89.43,526.55 86.67,526.77 83.50,527.60 C80.33,528.43 77.00,529.33 73.40,530.70 C69.80,532.07 65.30,534.10 61.90,535.80 C58.50,537.50 55.32,539.67 53.00,540.90 C50.68,542.13 49.43,543.23 48.00,543.20 C46.57,543.17 45.57,542.45 44.40,540.70 C43.23,538.95 42.33,536.12 41.00,532.70 C39.67,529.28 37.92,523.62 36.40,520.20 C34.88,516.78 33.13,514.30 31.90,512.20 C30.67,510.10 29.58,509.03 29.00,507.60 C28.42,506.17 27.92,504.85 28.40,503.60Z" fill="none" stroke="#6A4170" stroke-width="0.6"/>
<text x="52.40" y="520.00" font-size="9.2" font-weight="bold" fill="#FFFFFF" stroke="#FFFFFF" stroke-width="0.6" textLength="35.7" lengthAdjust="spacingAndGlyphs">CBFA2T3</text>
<path d="M46.50,559.50 C47.55,558.43 48.72,558.12 50.30,557.60 C51.88,557.08 54.72,556.08 56.00,556.40 C57.28,556.72 56.62,558.77 58.00,559.50 C59.38,560.23 61.98,561.12 64.30,560.80 C66.62,560.48 68.93,558.98 71.90,557.60 C74.87,556.22 79.13,553.23 82.10,552.50 C85.07,551.77 87.58,552.13 89.70,553.20 C91.82,554.27 93.32,556.47 94.80,558.90 C96.28,561.33 97.33,565.05 98.60,567.80 C99.87,570.55 100.92,573.50 102.40,575.40 C103.88,577.30 105.80,577.72 107.50,579.20 C109.20,580.68 111.43,581.97 112.60,584.30 C113.77,586.63 114.50,590.23 114.50,593.20 C114.50,596.17 113.98,599.13 112.60,602.10 C111.22,605.07 108.95,608.67 106.20,611.00 C103.45,613.33 99.07,615.68 96.10,616.10 C93.13,616.52 90.95,615.62 88.40,613.50 C85.85,611.38 83.55,607.00 80.80,603.40 C78.05,599.80 75.07,594.23 71.90,591.90 C68.73,589.57 65.82,590.45 61.80,589.40 C57.78,588.35 51.20,587.30 47.80,585.60 C44.40,583.90 42.47,581.75 41.40,579.20 C40.33,576.65 40.97,572.83 41.40,570.30 C41.83,567.77 43.15,565.80 44.00,564.00 C44.85,562.20 45.45,560.57 46.50,559.50Z" fill="#66C1EC" filter="url(#sh_blue)"/>
<path d="M46.50,559.50 C47.55,558.43 48.72,558.12 50.30,557.60 C51.88,557.08 54.72,556.08 56.00,556.40 C57.28,556.72 56.62,558.77 58.00,559.50 C59.38,560.23 61.98,561.12 64.30,560.80 C66.62,560.48 68.93,558.98 71.90,557.60 C74.87,556.22 79.13,553.23 82.10,552.50 C85.07,551.77 87.58,552.13 89.70,553.20 C91.82,554.27 93.32,556.47 94.80,558.90 C96.28,561.33 97.33,565.05 98.60,567.80 C99.87,570.55 100.92,573.50 102.40,575.40 C103.88,577.30 105.80,577.72 107.50,579.20 C109.20,580.68 111.43,581.97 112.60,584.30 C113.77,586.63 114.50,590.23 114.50,593.20 C114.50,596.17 113.98,599.13 112.60,602.10 C111.22,605.07 108.95,608.67 106.20,611.00 C103.45,613.33 99.07,615.68 96.10,616.10 C93.13,616.52 90.95,615.62 88.40,613.50 C85.85,611.38 83.55,607.00 80.80,603.40 C78.05,599.80 75.07,594.23 71.90,591.90 C68.73,589.57 65.82,590.45 61.80,589.40 C57.78,588.35 51.20,587.30 47.80,585.60 C44.40,583.90 42.47,581.75 41.40,579.20 C40.33,576.65 40.97,572.83 41.40,570.30 C41.83,567.77 43.15,565.80 44.00,564.00 C44.85,562.20 45.45,560.57 46.50,559.50Z" fill="none" stroke="#234F6B" stroke-width="0.75"/>
<text x="54.80" y="582.40" font-size="8.6" font-weight="bold" fill="#111111" stroke="#111111" stroke-width="0.55" textLength="29.2" lengthAdjust="spacingAndGlyphs">RUNX1</text>
<path d="M122,543.7 L168.9,543.7 L168.9,537.1 L182.6,551.00 L168.9,564.9 L168.9,558 L122,558Z" fill="#1FCAA5"/>
<path d="M189.28,592.07 L189.38,591.95 L189.46,591.78 L189.52,591.56 L189.56,591.27 L189.58,590.92 L189.58,590.51 L189.57,590.04 L189.54,589.51 L189.50,588.92 L189.46,588.29 L189.41,587.62 L189.37,586.93 L189.35,586.23 L189.35,585.53 L189.37,584.86 L189.43,584.24 L189.54,583.68 L189.70,583.20 L189.91,582.83 L190.19,582.57 L190.52,582.44 M197.65,588.83 L197.77,588.62 L197.83,588.23 L197.84,587.64 L197.80,586.89 L197.75,586.01 L197.69,585.02 L197.65,583.99 L197.64,582.95 L197.69,581.96 L197.81,581.06 L198.00,580.30 L198.28,579.71 L198.65,579.33 L199.10,579.17 M205.71,586.09 L205.85,585.89 L205.94,585.47 L206.00,584.86 L206.04,584.07 L206.09,583.16 L206.15,582.16 L206.25,581.13 L206.40,580.11 L206.60,579.16 L206.86,578.32 L207.18,577.63 L207.55,577.12 L207.98,576.80 L208.44,576.70 M213.86,584.69 L214.02,584.43 L214.19,583.98 L214.38,583.36 L214.58,582.61 L214.82,581.74 L215.08,580.81 L215.38,579.87 L215.72,578.94 L216.09,578.08 L216.49,577.34 L216.92,576.74 L217.37,576.32 L217.83,576.09 L218.29,576.08 M222.53,584.78 L222.74,584.57 L222.98,584.16 L223.25,583.55 L223.55,582.78 L223.89,581.90 L224.27,580.95 L224.68,579.97 L225.12,579.04 L225.59,578.19 L226.07,577.47 L226.57,576.94 L227.07,576.61 L227.56,576.51 L228.03,576.64 M231.79,585.37 L232.05,585.06 L232.34,584.52 L232.67,583.78 L233.03,582.89 L233.43,581.91 L233.87,580.88 L234.34,579.87 L234.83,578.96 L235.35,578.19 L235.87,577.61 L236.39,577.27 L236.90,577.19 M241.05,586.06 L241.35,585.67 L241.70,585.02 L242.11,584.15 L242.58,583.13 L243.11,582.03 L243.69,580.94 L244.30,579.94 L244.93,579.11 L245.56,578.52 L246.17,578.22 L246.76,578.23 M250.17,587.37 L250.46,587.22 L250.82,586.75 L251.23,586.01 L251.70,585.05 L252.24,583.96 L252.82,582.82 L253.44,581.73 L254.07,580.78 L254.71,580.05 L255.34,579.59 L255.94,579.45 L256.51,579.65 M260.11,588.48 L260.42,588.16 L260.77,587.55 L261.17,586.70 L261.60,585.68 L262.07,584.56 L262.57,583.44 L263.09,582.39 L263.63,581.49 L264.18,580.80 L264.73,580.38 L265.28,580.24 L265.81,580.41 M270.55,588.67 L270.81,588.28 L271.06,587.64 L271.30,586.80 L271.56,585.80 L271.82,584.71 L272.10,583.59 L272.42,582.51 L272.76,581.54 L273.15,580.73 L273.59,580.14 L274.06,579.81 L274.59,579.74 M280.76,587.31 L280.98,587.06 L281.15,586.54 L281.29,585.80 L281.41,584.86 L281.53,583.80 L281.66,582.66 L281.82,581.52 L282.03,580.44 L282.30,579.49 L282.63,578.71 L283.04,578.16 L283.52,577.85 L284.06,577.81 M290.66,584.86 L290.85,584.65 L291.00,584.21 L291.09,583.56 L291.17,582.73 L291.23,581.77 L291.30,580.73 L291.40,579.65 L291.54,578.60 L291.73,577.63 L291.98,576.77 L292.30,576.08 L292.68,575.58 L293.13,575.28 L293.63,575.20 M300.26,582.34 L300.42,582.17 L300.56,581.83 L300.68,581.35 L300.79,580.72 L300.88,580.00 L300.98,579.19 L301.09,578.33 L301.22,577.46 L301.36,576.59 L301.54,575.77 L301.74,575.01 L301.98,574.34 L302.26,573.78 L302.57,573.34 L302.92,573.03 L303.30,572.87 L303.70,572.84 M310.34,580.05 L310.47,579.88 L310.58,579.60 L310.67,579.23 L310.76,578.76 L310.84,578.22 L310.91,577.61 L310.99,576.95 L311.07,576.26 L311.17,575.55 L311.28,574.84 L311.40,574.14 L311.55,573.47 L311.73,572.84 L311.92,572.27 L312.15,571.77 L312.40,571.35 L312.68,571.01 L312.98,570.76 L313.30,570.61 L313.65,570.55 M320.24,577.98 L320.36,577.85 L320.47,577.63 L320.58,577.33 L320.68,576.94 L320.77,576.48 L320.88,575.95 L320.99,575.38 L321.10,574.78 L321.21,574.16 L321.33,573.54 L321.46,572.93 L321.60,572.34 L321.75,571.77 L321.91,571.24 L322.09,570.75 L322.27,570.31 L322.47,569.91 L322.67,569.57 L322.89,569.28 L323.12,569.04 L323.35,568.86 L323.59,568.74 L323.84,568.67 L324.10,568.65 M330.20,576.48 L330.31,576.42 L330.42,576.31 L330.53,576.13 L330.63,575.89 L330.74,575.58 L330.86,575.22 L330.98,574.79 L331.12,574.30 L331.26,573.77 L331.42,573.19 L331.59,572.58 L331.79,571.94 L332.00,571.29 L332.23,570.64 L332.49,570.01 L332.77,569.41 L333.08,568.87 L333.41,568.39 L333.77,568.00 L334.15,567.72 L334.55,567.55 L334.97,567.52 M340.73,575.74 L341.01,575.34 L341.31,574.65 L341.64,573.68 L342.02,572.50 L342.47,571.21 L342.99,569.91 L343.58,568.73 L344.25,567.79 L344.98,567.21 L345.76,567.06 M351.32,575.46 L351.72,574.97 L352.15,573.95 L352.65,572.53 L353.23,570.91 L353.91,569.30 L354.69,567.96 L355.55,567.07 L356.46,566.77 M362.46,574.92 L362.91,574.01 L363.41,572.64 L363.99,571.03 L364.66,569.40 L365.43,567.99 L366.26,567.00 L367.15,566.55 L368.05,566.70 M373.04,575.02 L373.41,574.77 L373.79,574.08 L374.20,573.03 L374.66,571.77 L375.17,570.41 L375.73,569.10 L376.35,567.97 L377.00,567.09 L377.68,566.53 L378.36,566.32 L379.04,566.44" fill="none" stroke="#5E9F62" stroke-width="1.9" stroke-linecap="round"/>
<path d="M189.28,592.07 L189.38,591.95 L189.46,591.78 L189.52,591.56 L189.56,591.27 L189.58,590.92 L189.58,590.51 L189.57,590.04 L189.54,589.51 L189.50,588.92 L189.46,588.29 L189.41,587.62 L189.37,586.93 L189.35,586.23 L189.35,585.53 L189.37,584.86 L189.43,584.24 L189.54,583.68 L189.70,583.20 L189.91,582.83 L190.19,582.57 L190.52,582.44 M197.65,588.83 L197.77,588.62 L197.83,588.23 L197.84,587.64 L197.80,586.89 L197.75,586.01 L197.69,585.02 L197.65,583.99 L197.64,582.95 L197.69,581.96 L197.81,581.06 L198.00,580.30 L198.28,579.71 L198.65,579.33 L199.10,579.17 M205.71,586.09 L205.85,585.89 L205.94,585.47 L206.00,584.86 L206.04,584.07 L206.09,583.16 L206.15,582.16 L206.25,581.13 L206.40,580.11 L206.60,579.16 L206.86,578.32 L207.18,577.63 L207.55,577.12 L207.98,576.80 L208.44,576.70 M213.86,584.69 L214.02,584.43 L214.19,583.98 L214.38,583.36 L214.58,582.61 L214.82,581.74 L215.08,580.81 L215.38,579.87 L215.72,578.94 L216.09,578.08 L216.49,577.34 L216.92,576.74 L217.37,576.32 L217.83,576.09 L218.29,576.08 M222.53,584.78 L222.74,584.57 L222.98,584.16 L223.25,583.55 L223.55,582.78 L223.89,581.90 L224.27,580.95 L224.68,579.97 L225.12,579.04 L225.59,578.19 L226.07,577.47 L226.57,576.94 L227.07,576.61 L227.56,576.51 L228.03,576.64 M231.79,585.37 L232.05,585.06 L232.34,584.52 L232.67,583.78 L233.03,582.89 L233.43,581.91 L233.87,580.88 L234.34,579.87 L234.83,578.96 L235.35,578.19 L235.87,577.61 L236.39,577.27 L236.90,577.19 M241.05,586.06 L241.35,585.67 L241.70,585.02 L242.11,584.15 L242.58,583.13 L243.11,582.03 L243.69,580.94 L244.30,579.94 L244.93,579.11 L245.56,578.52 L246.17,578.22 L246.76,578.23 M250.17,587.37 L250.46,587.22 L250.82,586.75 L251.23,586.01 L251.70,585.05 L252.24,583.96 L252.82,582.82 L253.44,581.73 L254.07,580.78 L254.71,580.05 L255.34,579.59 L255.94,579.45 L256.51,579.65 M260.11,588.48 L260.42,588.16 L260.77,587.55 L261.17,586.70 L261.60,585.68 L262.07,584.56 L262.57,583.44 L263.09,582.39 L263.63,581.49 L264.18,580.80 L264.73,580.38 L265.28,580.24 L265.81,580.41 M270.55,588.67 L270.81,588.28 L271.06,587.64 L271.30,586.80 L271.56,585.80 L271.82,584.71 L272.10,583.59 L272.42,582.51 L272.76,581.54 L273.15,580.73 L273.59,580.14 L274.06,579.81 L274.59,579.74 M280.76,587.31 L280.98,587.06 L281.15,586.54 L281.29,585.80 L281.41,584.86 L281.53,583.80 L281.66,582.66 L281.82,581.52 L282.03,580.44 L282.30,579.49 L282.63,578.71 L283.04,578.16 L283.52,577.85 L284.06,577.81 M290.66,584.86 L290.85,584.65 L291.00,584.21 L291.09,583.56 L291.17,582.73 L291.23,581.77 L291.30,580.73 L291.40,579.65 L291.54,578.60 L291.73,577.63 L291.98,576.77 L292.30,576.08 L292.68,575.58 L293.13,575.28 L293.63,575.20 M300.26,582.34 L300.42,582.17 L300.56,581.83 L300.68,581.35 L300.79,580.72 L300.88,580.00 L300.98,579.19 L301.09,578.33 L301.22,577.46 L301.36,576.59 L301.54,575.77 L301.74,575.01 L301.98,574.34 L302.26,573.78 L302.57,573.34 L302.92,573.03 L303.30,572.87 L303.70,572.84 M310.34,580.05 L310.47,579.88 L310.58,579.60 L310.67,579.23 L310.76,578.76 L310.84,578.22 L310.91,577.61 L310.99,576.95 L311.07,576.26 L311.17,575.55 L311.28,574.84 L311.40,574.14 L311.55,573.47 L311.73,572.84 L311.92,572.27 L312.15,571.77 L312.40,571.35 L312.68,571.01 L312.98,570.76 L313.30,570.61 L313.65,570.55 M320.24,577.98 L320.36,577.85 L320.47,577.63 L320.58,577.33 L320.68,576.94 L320.77,576.48 L320.88,575.95 L320.99,575.38 L321.10,574.78 L321.21,574.16 L321.33,573.54 L321.46,572.93 L321.60,572.34 L321.75,571.77 L321.91,571.24 L322.09,570.75 L322.27,570.31 L322.47,569.91 L322.67,569.57 L322.89,569.28 L323.12,569.04 L323.35,568.86 L323.59,568.74 L323.84,568.67 L324.10,568.65 M330.20,576.48 L330.31,576.42 L330.42,576.31 L330.53,576.13 L330.63,575.89 L330.74,575.58 L330.86,575.22 L330.98,574.79 L331.12,574.30 L331.26,573.77 L331.42,573.19 L331.59,572.58 L331.79,571.94 L332.00,571.29 L332.23,570.64 L332.49,570.01 L332.77,569.41 L333.08,568.87 L333.41,568.39 L333.77,568.00 L334.15,567.72 L334.55,567.55 L334.97,567.52 M340.73,575.74 L341.01,575.34 L341.31,574.65 L341.64,573.68 L342.02,572.50 L342.47,571.21 L342.99,569.91 L343.58,568.73 L344.25,567.79 L344.98,567.21 L345.76,567.06 M351.32,575.46 L351.72,574.97 L352.15,573.95 L352.65,572.53 L353.23,570.91 L353.91,569.30 L354.69,567.96 L355.55,567.07 L356.46,566.77 M362.46,574.92 L362.91,574.01 L363.41,572.64 L363.99,571.03 L364.66,569.40 L365.43,567.99 L366.26,567.00 L367.15,566.55 L368.05,566.70 M373.04,575.02 L373.41,574.77 L373.79,574.08 L374.20,573.03 L374.66,571.77 L375.17,570.41 L375.73,569.10 L376.35,567.97 L377.00,567.09 L377.68,566.53 L378.36,566.32 L379.04,566.44" fill="none" stroke="#D6EDD1" stroke-width="0.8" stroke-linecap="round"/>
<path d="M190.52,582.44 L190.91,582.45 L191.37,582.59 L191.87,582.88 L192.42,583.29 L193.00,583.81 L193.60,584.43 L194.21,585.11 L194.81,585.83 L195.38,586.54 L195.92,587.21 L196.41,587.81 L196.83,588.30 L197.18,588.65 L197.45,588.83 L197.65,588.83 M199.10,579.17 L199.62,579.24 L200.21,579.53 L200.84,580.01 L201.50,580.66 L202.16,581.43 L202.80,582.28 L203.41,583.15 L203.97,583.99 L204.47,584.74 L204.89,585.37 L205.24,585.81 L205.51,586.06 L205.71,586.09 M208.44,576.70 L208.94,576.80 L209.45,577.09 L209.95,577.57 L210.44,578.19 L210.91,578.94 L211.36,579.78 L211.78,580.66 L212.16,581.54 L212.50,582.38 L212.81,583.15 L213.07,583.80 L213.30,584.30 L213.51,584.62 L213.69,584.76 L213.86,584.69 M218.29,576.08 L218.75,576.28 L219.19,576.68 L219.62,577.27 L220.02,578.02 L220.38,578.89 L220.72,579.83 L221.02,580.81 L221.29,581.77 L221.53,582.66 L221.74,583.45 L221.94,584.08 L222.14,584.52 L222.33,584.76 L222.53,584.78 M228.03,576.64 L228.48,577.02 L228.90,577.60 L229.29,578.37 L229.64,579.29 L229.96,580.30 L230.24,581.35 L230.49,582.38 L230.72,583.33 L230.94,584.16 L231.14,584.80 L231.34,585.23 L231.56,585.43 L231.79,585.37 M236.90,577.19 L237.42,577.37 L237.91,577.82 L238.38,578.51 L238.79,579.40 L239.16,580.44 L239.48,581.56 L239.75,582.69 L239.98,583.77 L240.19,584.71 L240.39,585.45 L240.58,585.94 L240.80,586.15 L241.05,586.06 M246.76,578.23 L247.29,578.57 L247.77,579.21 L248.19,580.12 L248.55,581.21 L248.85,582.43 L249.10,583.67 L249.31,584.85 L249.51,585.87 L249.71,586.67 L249.92,587.18 L250.17,587.37 M256.51,579.65 L257.02,580.16 L257.48,580.96 L257.89,581.98 L258.24,583.15 L258.55,584.39 L258.82,585.58 L259.08,586.67 L259.32,587.55 L259.56,588.17 L259.82,588.49 L260.11,588.48 M265.81,580.41 L266.33,580.86 L266.83,581.56 L267.31,582.46 L267.76,583.49 L268.19,584.59 L268.60,585.68 L268.98,586.69 L269.33,587.56 L269.67,588.22 L269.98,588.64 L270.27,588.79 L270.55,588.67 M274.59,579.74 L275.15,579.94 L275.74,580.39 L276.35,581.07 L276.97,581.91 L277.59,582.87 L278.18,583.87 L278.75,584.85 L279.27,585.74 L279.73,586.47 L280.13,587.00 L280.48,587.29 L280.76,587.31 M284.06,577.81 L284.66,578.02 L285.31,578.46 L285.98,579.10 L286.67,579.89 L287.35,580.78 L288.00,581.70 L288.61,582.60 L289.16,583.40 L289.65,584.07 L290.06,584.56 L290.40,584.83 L290.66,584.86 M293.63,575.20 L294.18,575.33 L294.77,575.65 L295.38,576.15 L296.00,576.79 L296.62,577.53 L297.21,578.33 L297.77,579.15 L298.29,579.95 L298.76,580.68 L299.17,581.31 L299.53,581.81 L299.83,582.15 L300.07,582.33 L300.26,582.34 M303.70,572.84 L304.14,572.95 L304.59,573.18 L305.06,573.53 L305.53,573.98 L306.01,574.51 L306.48,575.11 L306.95,575.74 L307.40,576.40 L307.82,577.05 L308.23,577.69 L308.60,578.28 L308.94,578.81 L309.26,579.26 L309.53,579.63 L309.78,579.90 L309.99,580.06 L310.18,580.11 L310.34,580.05 M313.65,570.55 L314.01,570.60 L314.39,570.73 L314.78,570.96 L315.18,571.26 L315.58,571.64 L315.98,572.09 L316.38,572.58 L316.78,573.12 L317.16,573.68 L317.53,574.26 L317.89,574.84 L318.22,575.40 L318.54,575.94 L318.83,576.44 L319.10,576.88 L319.34,577.26 L319.56,577.57 L319.76,577.81 L319.94,577.95 L320.10,578.01 L320.24,577.98 M324.10,568.65 L324.36,568.68 L324.62,568.76 L324.89,568.89 L325.16,569.05 L325.43,569.26 L325.70,569.51 L325.97,569.78 L326.24,570.09 L326.50,570.43 L326.76,570.78 L327.01,571.16 L327.26,571.55 L327.50,571.95 L327.74,572.36 L327.96,572.77 L328.18,573.18 L328.39,573.59 L328.59,573.99 L328.78,574.37 L328.96,574.74 L329.13,575.08 L329.29,575.39 L329.44,575.68 L329.59,575.93 L329.73,576.13 L329.85,576.30 L329.98,576.41 L330.09,576.47 L330.20,576.48 M334.97,567.52 L335.41,567.63 L335.86,567.88 L336.32,568.29 L336.77,568.84 L337.23,569.51 L337.67,570.29 L338.10,571.15 L338.51,572.06 L338.90,572.96 L339.26,573.82 L339.60,574.58 L339.90,575.21 L340.19,575.64 L340.46,575.83 L340.73,575.74 M345.76,567.06 L346.55,567.39 L347.34,568.17 L348.10,569.33 L348.81,570.75 L349.45,572.24 L350.01,573.63 L350.49,574.73 L350.93,575.37 L351.32,575.46 M356.46,566.77 L357.39,567.10 L358.29,568.03 L359.14,569.41 L359.90,571.03 L360.56,572.65 L361.12,574.02 L361.61,574.93 L362.04,575.24 L362.46,574.92 M368.05,566.70 L368.93,567.40 L369.76,568.55 L370.51,569.99 L371.17,571.51 L371.74,572.93 L372.23,574.06 L372.66,574.78 L373.04,575.02 M379.04,566.44 L379.69,566.86 L380.30,567.53 L380.87,568.38 L381.40,569.33 L381.87,570.32 L382.28,571.29 L382.65,572.19 L382.98,572.98 L383.27,573.63 L383.52,574.13 L383.75,574.49 L383.95,574.70 L384.14,574.79" fill="none" stroke="#3A8340" stroke-width="2.0" stroke-linecap="round"/>
<path d="M190.52,582.44 L190.91,582.45 L191.37,582.59 L191.87,582.88 L192.42,583.29 L193.00,583.81 L193.60,584.43 L194.21,585.11 L194.81,585.83 L195.38,586.54 L195.92,587.21 L196.41,587.81 L196.83,588.30 L197.18,588.65 L197.45,588.83 L197.65,588.83 M199.10,579.17 L199.62,579.24 L200.21,579.53 L200.84,580.01 L201.50,580.66 L202.16,581.43 L202.80,582.28 L203.41,583.15 L203.97,583.99 L204.47,584.74 L204.89,585.37 L205.24,585.81 L205.51,586.06 L205.71,586.09 M208.44,576.70 L208.94,576.80 L209.45,577.09 L209.95,577.57 L210.44,578.19 L210.91,578.94 L211.36,579.78 L211.78,580.66 L212.16,581.54 L212.50,582.38 L212.81,583.15 L213.07,583.80 L213.30,584.30 L213.51,584.62 L213.69,584.76 L213.86,584.69 M218.29,576.08 L218.75,576.28 L219.19,576.68 L219.62,577.27 L220.02,578.02 L220.38,578.89 L220.72,579.83 L221.02,580.81 L221.29,581.77 L221.53,582.66 L221.74,583.45 L221.94,584.08 L222.14,584.52 L222.33,584.76 L222.53,584.78 M228.03,576.64 L228.48,577.02 L228.90,577.60 L229.29,578.37 L229.64,579.29 L229.96,580.30 L230.24,581.35 L230.49,582.38 L230.72,583.33 L230.94,584.16 L231.14,584.80 L231.34,585.23 L231.56,585.43 L231.79,585.37 M236.90,577.19 L237.42,577.37 L237.91,577.82 L238.38,578.51 L238.79,579.40 L239.16,580.44 L239.48,581.56 L239.75,582.69 L239.98,583.77 L240.19,584.71 L240.39,585.45 L240.58,585.94 L240.80,586.15 L241.05,586.06 M246.76,578.23 L247.29,578.57 L247.77,579.21 L248.19,580.12 L248.55,581.21 L248.85,582.43 L249.10,583.67 L249.31,584.85 L249.51,585.87 L249.71,586.67 L249.92,587.18 L250.17,587.37 M256.51,579.65 L257.02,580.16 L257.48,580.96 L257.89,581.98 L258.24,583.15 L258.55,584.39 L258.82,585.58 L259.08,586.67 L259.32,587.55 L259.56,588.17 L259.82,588.49 L260.11,588.48 M265.81,580.41 L266.33,580.86 L266.83,581.56 L267.31,582.46 L267.76,583.49 L268.19,584.59 L268.60,585.68 L268.98,586.69 L269.33,587.56 L269.67,588.22 L269.98,588.64 L270.27,588.79 L270.55,588.67 M274.59,579.74 L275.15,579.94 L275.74,580.39 L276.35,581.07 L276.97,581.91 L277.59,582.87 L278.18,583.87 L278.75,584.85 L279.27,585.74 L279.73,586.47 L280.13,587.00 L280.48,587.29 L280.76,587.31 M284.06,577.81 L284.66,578.02 L285.31,578.46 L285.98,579.10 L286.67,579.89 L287.35,580.78 L288.00,581.70 L288.61,582.60 L289.16,583.40 L289.65,584.07 L290.06,584.56 L290.40,584.83 L290.66,584.86 M293.63,575.20 L294.18,575.33 L294.77,575.65 L295.38,576.15 L296.00,576.79 L296.62,577.53 L297.21,578.33 L297.77,579.15 L298.29,579.95 L298.76,580.68 L299.17,581.31 L299.53,581.81 L299.83,582.15 L300.07,582.33 L300.26,582.34 M303.70,572.84 L304.14,572.95 L304.59,573.18 L305.06,573.53 L305.53,573.98 L306.01,574.51 L306.48,575.11 L306.95,575.74 L307.40,576.40 L307.82,577.05 L308.23,577.69 L308.60,578.28 L308.94,578.81 L309.26,579.26 L309.53,579.63 L309.78,579.90 L309.99,580.06 L310.18,580.11 L310.34,580.05 M313.65,570.55 L314.01,570.60 L314.39,570.73 L314.78,570.96 L315.18,571.26 L315.58,571.64 L315.98,572.09 L316.38,572.58 L316.78,573.12 L317.16,573.68 L317.53,574.26 L317.89,574.84 L318.22,575.40 L318.54,575.94 L318.83,576.44 L319.10,576.88 L319.34,577.26 L319.56,577.57 L319.76,577.81 L319.94,577.95 L320.10,578.01 L320.24,577.98 M324.10,568.65 L324.36,568.68 L324.62,568.76 L324.89,568.89 L325.16,569.05 L325.43,569.26 L325.70,569.51 L325.97,569.78 L326.24,570.09 L326.50,570.43 L326.76,570.78 L327.01,571.16 L327.26,571.55 L327.50,571.95 L327.74,572.36 L327.96,572.77 L328.18,573.18 L328.39,573.59 L328.59,573.99 L328.78,574.37 L328.96,574.74 L329.13,575.08 L329.29,575.39 L329.44,575.68 L329.59,575.93 L329.73,576.13 L329.85,576.30 L329.98,576.41 L330.09,576.47 L330.20,576.48 M334.97,567.52 L335.41,567.63 L335.86,567.88 L336.32,568.29 L336.77,568.84 L337.23,569.51 L337.67,570.29 L338.10,571.15 L338.51,572.06 L338.90,572.96 L339.26,573.82 L339.60,574.58 L339.90,575.21 L340.19,575.64 L340.46,575.83 L340.73,575.74 M345.76,567.06 L346.55,567.39 L347.34,568.17 L348.10,569.33 L348.81,570.75 L349.45,572.24 L350.01,573.63 L350.49,574.73 L350.93,575.37 L351.32,575.46 M356.46,566.77 L357.39,567.10 L358.29,568.03 L359.14,569.41 L359.90,571.03 L360.56,572.65 L361.12,574.02 L361.61,574.93 L362.04,575.24 L362.46,574.92 M368.05,566.70 L368.93,567.40 L369.76,568.55 L370.51,569.99 L371.17,571.51 L371.74,572.93 L372.23,574.06 L372.66,574.78 L373.04,575.02 M379.04,566.44 L379.69,566.86 L380.30,567.53 L380.87,568.38 L381.40,569.33 L381.87,570.32 L382.28,571.29 L382.65,572.19 L382.98,572.98 L383.27,573.63 L383.52,574.13 L383.75,574.49 L383.95,574.70 L384.14,574.79" fill="none" stroke="#C4E3BE" stroke-width="0.75" stroke-linecap="round"/>
<path d="M191.76,591.13 L191.84,590.93 L191.89,590.61 L191.90,590.19 L191.87,589.67 L191.83,589.05 L191.77,588.34 L191.70,587.56 L191.63,586.74 L191.58,585.89 L191.56,585.05 L191.57,584.23 L191.63,583.48 L191.76,582.81 L191.94,582.26 L192.21,581.85 L192.54,581.60 L192.95,581.52 M199.91,587.93 L200.00,587.61 L200.04,587.08 L200.03,586.37 L199.99,585.51 L199.95,584.52 L199.93,583.47 L199.94,582.41 L200.00,581.38 L200.13,580.44 L200.33,579.63 L200.62,579.01 L200.99,578.59 L201.44,578.39 M207.97,585.46 L208.08,585.14 L208.17,584.63 L208.25,583.94 L208.33,583.12 L208.43,582.21 L208.57,581.24 L208.75,580.26 L208.97,579.32 L209.24,578.45 L209.56,577.71 L209.91,577.10 L210.31,576.66 L210.73,576.41 L211.19,576.36 M216.20,584.57 L216.38,584.27 L216.58,583.78 L216.80,583.13 L217.05,582.34 L217.33,581.45 L217.64,580.51 L217.99,579.56 L218.37,578.65 L218.78,577.82 L219.22,577.13 L219.67,576.59 L220.14,576.25 L220.61,576.12 L221.07,576.20 M224.89,584.94 L225.11,584.82 L225.35,584.47 L225.62,583.92 L225.93,583.19 L226.28,582.33 L226.66,581.38 L227.08,580.39 L227.53,579.43 L228.00,578.54 L228.50,577.79 L229.00,577.21 L229.51,576.83 L230.01,576.69 L230.49,576.80 M234.36,585.54 L234.63,585.20 L234.93,584.63 L235.26,583.86 L235.63,582.94 L236.04,581.92 L236.48,580.87 L236.97,579.86 L237.50,578.95 L238.05,578.20 L238.62,577.67 L239.19,577.41 L239.74,577.42 M243.46,586.41 L243.75,586.11 L244.11,585.52 L244.53,584.69 L245.01,583.68 L245.55,582.58 L246.14,581.47 L246.76,580.44 L247.40,579.57 L248.04,578.93 L248.67,578.59 L249.26,578.57 M252.76,587.71 L253.05,587.58 L253.40,587.13 L253.81,586.39 L254.28,585.44 L254.80,584.35 L255.36,583.21 L255.96,582.11 L256.58,581.15 L257.21,580.39 L257.83,579.91 L258.42,579.74 L258.99,579.90 M262.78,588.72 L263.08,588.46 L263.41,587.92 L263.76,587.14 L264.15,586.17 L264.56,585.08 L265.00,583.96 L265.47,582.88 L265.95,581.92 L266.45,581.14 L266.96,580.59 L267.48,580.31 L268.01,580.31 M273.22,588.54 L273.47,588.32 L273.71,587.84 L273.92,587.12 L274.13,586.21 L274.33,585.16 L274.56,584.03 L274.80,582.90 L275.09,581.83 L275.42,580.89 L275.80,580.14 L276.24,579.61 L276.73,579.35 L277.27,579.35 M283.55,586.65 L283.75,586.31 L283.90,585.73 L284.01,584.93 L284.10,583.96 L284.20,582.87 L284.32,581.74 L284.47,580.61 L284.67,579.57 L284.94,578.66 L285.28,577.93 L285.69,577.43 L286.17,577.16 M293.45,583.98 L293.60,583.59 L293.70,583.00 L293.77,582.24 L293.84,581.34 L293.91,580.36 L294.00,579.33 L294.12,578.30 L294.29,577.33 L294.52,576.45 L294.80,575.71 L295.15,575.13 L295.55,574.73 L296.01,574.52 M303.02,581.71 L303.18,581.49 L303.31,581.13 L303.42,580.64 L303.51,580.03 L303.60,579.34 L303.69,578.58 L303.79,577.77 L303.90,576.95 L304.03,576.13 L304.18,575.35 L304.37,574.62 L304.58,573.96 L304.83,573.39 L305.11,572.92 L305.42,572.57 L305.76,572.34 L306.13,572.23 M312.94,579.49 L313.08,579.40 L313.20,579.21 L313.30,578.92 L313.39,578.54 L313.47,578.08 L313.55,577.55 L313.62,576.97 L313.70,576.33 L313.79,575.67 L313.89,574.98 L314.00,574.29 L314.13,573.62 L314.28,572.97 L314.46,572.35 L314.65,571.79 L314.88,571.29 L315.12,570.85 L315.39,570.50 L315.69,570.24 L316.00,570.06 L316.34,569.98 M323.01,577.50 L323.13,577.37 L323.23,577.18 L323.33,576.94 L323.42,576.63 L323.51,576.29 L323.59,575.90 L323.67,575.47 L323.76,575.03 L323.84,574.56 L323.93,574.07 L324.02,573.58 L324.12,573.09 L324.23,572.60 L324.34,572.12 L324.46,571.65 L324.59,571.20 L324.73,570.77 L324.88,570.36 L325.04,569.98 L325.22,569.63 L325.40,569.32 L325.59,569.04 L325.79,568.79 L326.00,568.59 L326.22,568.43 L326.45,568.31 L326.69,568.24 L326.93,568.21 M332.95,576.25 L333.09,576.16 L333.24,575.98 L333.39,575.69 L333.55,575.30 L333.71,574.81 L333.89,574.23 L334.09,573.56 L334.30,572.83 L334.55,572.05 L334.82,571.24 L335.12,570.44 L335.45,569.67 L335.82,568.95 L336.22,568.34 L336.66,567.85 L337.13,567.51 L337.63,567.36 L338.15,567.41 M343.63,575.60 L343.96,575.08 L344.32,574.18 L344.72,572.98 L345.20,571.58 L345.75,570.14 L346.40,568.81 L347.12,567.75 L347.91,567.12 L348.74,566.98 M354.45,575.21 L354.87,574.41 L355.35,573.13 L355.91,571.53 L356.56,569.86 L357.32,568.37 L358.16,567.27 L359.07,566.74 L360.00,566.84 M365.25,575.07 L365.67,574.41 L366.13,573.25 L366.66,571.76 L367.28,570.15 L367.98,568.65 L368.75,567.45 L369.59,566.70 L370.45,566.48 M376.31,574.83 L376.65,574.33 L377.01,573.50 L377.39,572.46 L377.82,571.29 L378.28,570.09 L378.78,568.97 L379.31,567.99 L379.86,567.20 L380.43,566.65 L380.99,566.34 L381.55,566.26" fill="none" stroke="#5E9F62" stroke-width="1.9" stroke-linecap="round"/>
<path d="M191.76,591.13 L191.84,590.93 L191.89,590.61 L191.90,590.19 L191.87,589.67 L191.83,589.05 L191.77,588.34 L191.70,587.56 L191.63,586.74 L191.58,585.89 L191.56,585.05 L191.57,584.23 L191.63,583.48 L191.76,582.81 L191.94,582.26 L192.21,581.85 L192.54,581.60 L192.95,581.52 M199.91,587.93 L200.00,587.61 L200.04,587.08 L200.03,586.37 L199.99,585.51 L199.95,584.52 L199.93,583.47 L199.94,582.41 L200.00,581.38 L200.13,580.44 L200.33,579.63 L200.62,579.01 L200.99,578.59 L201.44,578.39 M207.97,585.46 L208.08,585.14 L208.17,584.63 L208.25,583.94 L208.33,583.12 L208.43,582.21 L208.57,581.24 L208.75,580.26 L208.97,579.32 L209.24,578.45 L209.56,577.71 L209.91,577.10 L210.31,576.66 L210.73,576.41 L211.19,576.36 M216.20,584.57 L216.38,584.27 L216.58,583.78 L216.80,583.13 L217.05,582.34 L217.33,581.45 L217.64,580.51 L217.99,579.56 L218.37,578.65 L218.78,577.82 L219.22,577.13 L219.67,576.59 L220.14,576.25 L220.61,576.12 L221.07,576.20 M224.89,584.94 L225.11,584.82 L225.35,584.47 L225.62,583.92 L225.93,583.19 L226.28,582.33 L226.66,581.38 L227.08,580.39 L227.53,579.43 L228.00,578.54 L228.50,577.79 L229.00,577.21 L229.51,576.83 L230.01,576.69 L230.49,576.80 M234.36,585.54 L234.63,585.20 L234.93,584.63 L235.26,583.86 L235.63,582.94 L236.04,581.92 L236.48,580.87 L236.97,579.86 L237.50,578.95 L238.05,578.20 L238.62,577.67 L239.19,577.41 L239.74,577.42 M243.46,586.41 L243.75,586.11 L244.11,585.52 L244.53,584.69 L245.01,583.68 L245.55,582.58 L246.14,581.47 L246.76,580.44 L247.40,579.57 L248.04,578.93 L248.67,578.59 L249.26,578.57 M252.76,587.71 L253.05,587.58 L253.40,587.13 L253.81,586.39 L254.28,585.44 L254.80,584.35 L255.36,583.21 L255.96,582.11 L256.58,581.15 L257.21,580.39 L257.83,579.91 L258.42,579.74 L258.99,579.90 M262.78,588.72 L263.08,588.46 L263.41,587.92 L263.76,587.14 L264.15,586.17 L264.56,585.08 L265.00,583.96 L265.47,582.88 L265.95,581.92 L266.45,581.14 L266.96,580.59 L267.48,580.31 L268.01,580.31 M273.22,588.54 L273.47,588.32 L273.71,587.84 L273.92,587.12 L274.13,586.21 L274.33,585.16 L274.56,584.03 L274.80,582.90 L275.09,581.83 L275.42,580.89 L275.80,580.14 L276.24,579.61 L276.73,579.35 L277.27,579.35 M283.55,586.65 L283.75,586.31 L283.90,585.73 L284.01,584.93 L284.10,583.96 L284.20,582.87 L284.32,581.74 L284.47,580.61 L284.67,579.57 L284.94,578.66 L285.28,577.93 L285.69,577.43 L286.17,577.16 M293.45,583.98 L293.60,583.59 L293.70,583.00 L293.77,582.24 L293.84,581.34 L293.91,580.36 L294.00,579.33 L294.12,578.30 L294.29,577.33 L294.52,576.45 L294.80,575.71 L295.15,575.13 L295.55,574.73 L296.01,574.52 M303.02,581.71 L303.18,581.49 L303.31,581.13 L303.42,580.64 L303.51,580.03 L303.60,579.34 L303.69,578.58 L303.79,577.77 L303.90,576.95 L304.03,576.13 L304.18,575.35 L304.37,574.62 L304.58,573.96 L304.83,573.39 L305.11,572.92 L305.42,572.57 L305.76,572.34 L306.13,572.23 M312.94,579.49 L313.08,579.40 L313.20,579.21 L313.30,578.92 L313.39,578.54 L313.47,578.08 L313.55,577.55 L313.62,576.97 L313.70,576.33 L313.79,575.67 L313.89,574.98 L314.00,574.29 L314.13,573.62 L314.28,572.97 L314.46,572.35 L314.65,571.79 L314.88,571.29 L315.12,570.85 L315.39,570.50 L315.69,570.24 L316.00,570.06 L316.34,569.98 M323.01,577.50 L323.13,577.37 L323.23,577.18 L323.33,576.94 L323.42,576.63 L323.51,576.29 L323.59,575.90 L323.67,575.47 L323.76,575.03 L323.84,574.56 L323.93,574.07 L324.02,573.58 L324.12,573.09 L324.23,572.60 L324.34,572.12 L324.46,571.65 L324.59,571.20 L324.73,570.77 L324.88,570.36 L325.04,569.98 L325.22,569.63 L325.40,569.32 L325.59,569.04 L325.79,568.79 L326.00,568.59 L326.22,568.43 L326.45,568.31 L326.69,568.24 L326.93,568.21 M332.95,576.25 L333.09,576.16 L333.24,575.98 L333.39,575.69 L333.55,575.30 L333.71,574.81 L333.89,574.23 L334.09,573.56 L334.30,572.83 L334.55,572.05 L334.82,571.24 L335.12,570.44 L335.45,569.67 L335.82,568.95 L336.22,568.34 L336.66,567.85 L337.13,567.51 L337.63,567.36 L338.15,567.41 M343.63,575.60 L343.96,575.08 L344.32,574.18 L344.72,572.98 L345.20,571.58 L345.75,570.14 L346.40,568.81 L347.12,567.75 L347.91,567.12 L348.74,566.98 M354.45,575.21 L354.87,574.41 L355.35,573.13 L355.91,571.53 L356.56,569.86 L357.32,568.37 L358.16,567.27 L359.07,566.74 L360.00,566.84 M365.25,575.07 L365.67,574.41 L366.13,573.25 L366.66,571.76 L367.28,570.15 L367.98,568.65 L368.75,567.45 L369.59,566.70 L370.45,566.48 M376.31,574.83 L376.65,574.33 L377.01,573.50 L377.39,572.46 L377.82,571.29 L378.28,570.09 L378.78,568.97 L379.31,567.99 L379.86,567.20 L380.43,566.65 L380.99,566.34 L381.55,566.26" fill="none" stroke="#D6EDD1" stroke-width="0.8" stroke-linecap="round"/>
<path d="M188.50,587.83 L188.78,588.21 L189.08,588.60 L189.38,589.00 L189.69,589.39 L189.99,589.77 L190.29,590.14 L190.57,590.47 L190.84,590.75 L191.09,590.98 L191.31,591.15 L191.49,591.23 L191.65,591.23 L191.76,591.13 M192.95,581.52 L193.43,581.61 L193.97,581.87 L194.56,582.29 L195.19,582.85 L195.83,583.52 L196.48,584.26 L197.12,585.04 L197.72,585.81 L198.27,586.52 L198.75,587.14 L199.16,587.61 L199.49,587.92 L199.74,588.03 L199.91,587.93 M201.44,578.39 L201.96,578.43 L202.53,578.69 L203.14,579.16 L203.77,579.79 L204.41,580.56 L205.02,581.42 L205.60,582.30 L206.13,583.16 L206.60,583.95 L207.01,584.62 L207.34,585.13 L207.61,585.45 L207.81,585.56 L207.97,585.46 M211.19,576.36 L211.65,576.50 L212.13,576.84 L212.60,577.36 L213.05,578.02 L213.49,578.81 L213.90,579.68 L214.28,580.58 L214.62,581.49 L214.92,582.35 L215.19,583.12 L215.43,583.77 L215.64,584.26 L215.84,584.56 L216.02,584.67 L216.20,584.57 M221.07,576.20 L221.53,576.51 L221.95,577.01 L222.36,577.69 L222.73,578.52 L223.07,579.46 L223.37,580.45 L223.64,581.44 L223.88,582.39 L224.10,583.25 L224.30,583.96 L224.50,584.50 L224.69,584.83 L224.89,584.94 M230.49,576.80 L230.95,577.15 L231.38,577.72 L231.78,578.49 L232.14,579.41 L232.46,580.43 L232.75,581.50 L233.01,582.54 L233.25,583.52 L233.47,584.35 L233.68,585.00 L233.90,585.43 L234.12,585.62 L234.36,585.54 M239.74,577.42 L240.26,577.72 L240.75,578.30 L241.18,579.12 L241.56,580.13 L241.89,581.26 L242.16,582.44 L242.40,583.59 L242.60,584.62 L242.80,585.47 L242.99,586.08 L243.21,586.40 L243.46,586.41 M249.26,578.57 L249.81,578.87 L250.30,579.49 L250.72,580.38 L251.09,581.48 L251.39,582.69 L251.65,583.94 L251.87,585.13 L252.08,586.17 L252.28,586.99 L252.50,587.51 L252.76,587.71 M258.99,579.90 L259.51,580.37 L259.98,581.13 L260.40,582.11 L260.78,583.25 L261.12,584.46 L261.43,585.64 L261.71,586.73 L261.97,587.63 L262.23,588.29 L262.50,588.66 L262.78,588.72 M268.01,580.31 L268.53,580.59 L269.05,581.12 L269.56,581.87 L270.06,582.78 L270.54,583.79 L271.01,584.84 L271.45,585.87 L271.87,586.80 L272.26,587.58 L272.61,588.16 L272.93,588.48 L273.22,588.54 M277.27,579.35 L277.86,579.62 L278.48,580.14 L279.13,580.85 L279.78,581.72 L280.42,582.68 L281.03,583.67 L281.61,584.60 L282.13,585.43 L282.59,586.09 L282.98,586.53 L283.30,586.72 L283.55,586.65 M286.17,577.16 L286.72,577.15 L287.33,577.38 L287.98,577.83 L288.65,578.47 L289.33,579.25 L290.00,580.12 L290.64,581.02 L291.24,581.89 L291.79,582.67 L292.26,583.33 L292.67,583.81 L293.00,584.09 L293.26,584.15 L293.45,583.98 M296.01,574.52 L296.51,574.51 L297.05,574.69 L297.61,575.05 L298.19,575.55 L298.77,576.18 L299.33,576.90 L299.87,577.67 L300.38,578.45 L300.86,579.22 L301.29,579.92 L301.69,580.55 L302.04,581.06 L302.35,581.44 L302.61,581.68 L302.84,581.77 L303.02,581.71 M306.13,572.23 L306.53,572.24 L306.94,572.38 L307.38,572.62 L307.82,572.96 L308.27,573.40 L308.73,573.90 L309.18,574.46 L309.62,575.06 L310.04,575.68 L310.45,576.30 L310.84,576.91 L311.20,577.48 L311.54,578.01 L311.84,578.47 L312.12,578.86 L312.37,579.16 L312.58,579.37 L312.77,579.48 L312.94,579.49 M316.34,569.98 L316.69,569.99 L317.06,570.10 L317.44,570.29 L317.83,570.56 L318.22,570.92 L318.61,571.34 L319.00,571.81 L319.39,572.34 L319.77,572.89 L320.13,573.47 L320.48,574.05 L320.81,574.63 L321.12,575.19 L321.41,575.72 L321.68,576.20 L321.93,576.62 L322.16,576.97 L322.37,577.23 L322.56,577.42 L322.73,577.52 L322.88,577.55 L323.01,577.50 M326.93,568.21 L327.18,568.22 L327.44,568.29 L327.70,568.39 L327.97,568.55 L328.24,568.74 L328.51,568.98 L328.79,569.27 L329.06,569.59 L329.33,569.95 L329.60,570.34 L329.87,570.77 L330.13,571.22 L330.39,571.69 L330.64,572.18 L330.88,572.67 L331.11,573.17 L331.34,573.66 L331.55,574.13 L331.76,574.58 L331.95,575.00 L332.14,575.37 L332.32,575.69 L332.49,575.95 L332.65,576.13 L332.80,576.23 L332.95,576.25 M338.15,567.41 L338.68,567.68 L339.22,568.15 L339.77,568.83 L340.32,569.70 L340.84,570.71 L341.35,571.82 L341.81,572.93 L342.24,573.97 L342.63,574.84 L342.98,575.45 L343.31,575.72 L343.63,575.60 M348.74,566.98 L349.59,567.39 L350.43,568.30 L351.22,569.61 L351.94,571.14 L352.58,572.69 L353.13,574.04 L353.61,575.00 L354.04,575.41 L354.45,575.21 M360.00,566.84 L360.92,567.57 L361.80,568.81 L362.59,570.37 L363.28,572.01 L363.88,573.48 L364.39,574.58 L364.83,575.13 L365.25,575.07 M370.45,566.48 L371.31,566.80 L372.14,567.60 L372.91,568.77 L373.60,570.16 L374.22,571.59 L374.75,572.90 L375.21,573.96 L375.61,574.66 L375.97,574.96 L376.31,574.83 M381.55,566.26 L382.09,566.39 L382.60,566.71 L383.08,567.18 L383.53,567.74 L383.94,568.38 L384.31,569.05 L384.64,569.71" fill="none" stroke="#3A8340" stroke-width="2.0" stroke-linecap="round"/>
<path d="M188.50,587.83 L188.78,588.21 L189.08,588.60 L189.38,589.00 L189.69,589.39 L189.99,589.77 L190.29,590.14 L190.57,590.47 L190.84,590.75 L191.09,590.98 L191.31,591.15 L191.49,591.23 L191.65,591.23 L191.76,591.13 M192.95,581.52 L193.43,581.61 L193.97,581.87 L194.56,582.29 L195.19,582.85 L195.83,583.52 L196.48,584.26 L197.12,585.04 L197.72,585.81 L198.27,586.52 L198.75,587.14 L199.16,587.61 L199.49,587.92 L199.74,588.03 L199.91,587.93 M201.44,578.39 L201.96,578.43 L202.53,578.69 L203.14,579.16 L203.77,579.79 L204.41,580.56 L205.02,581.42 L205.60,582.30 L206.13,583.16 L206.60,583.95 L207.01,584.62 L207.34,585.13 L207.61,585.45 L207.81,585.56 L207.97,585.46 M211.19,576.36 L211.65,576.50 L212.13,576.84 L212.60,577.36 L213.05,578.02 L213.49,578.81 L213.90,579.68 L214.28,580.58 L214.62,581.49 L214.92,582.35 L215.19,583.12 L215.43,583.77 L215.64,584.26 L215.84,584.56 L216.02,584.67 L216.20,584.57 M221.07,576.20 L221.53,576.51 L221.95,577.01 L222.36,577.69 L222.73,578.52 L223.07,579.46 L223.37,580.45 L223.64,581.44 L223.88,582.39 L224.10,583.25 L224.30,583.96 L224.50,584.50 L224.69,584.83 L224.89,584.94 M230.49,576.80 L230.95,577.15 L231.38,577.72 L231.78,578.49 L232.14,579.41 L232.46,580.43 L232.75,581.50 L233.01,582.54 L233.25,583.52 L233.47,584.35 L233.68,585.00 L233.90,585.43 L234.12,585.62 L234.36,585.54 M239.74,577.42 L240.26,577.72 L240.75,578.30 L241.18,579.12 L241.56,580.13 L241.89,581.26 L242.16,582.44 L242.40,583.59 L242.60,584.62 L242.80,585.47 L242.99,586.08 L243.21,586.40 L243.46,586.41 M249.26,578.57 L249.81,578.87 L250.30,579.49 L250.72,580.38 L251.09,581.48 L251.39,582.69 L251.65,583.94 L251.87,585.13 L252.08,586.17 L252.28,586.99 L252.50,587.51 L252.76,587.71 M258.99,579.90 L259.51,580.37 L259.98,581.13 L260.40,582.11 L260.78,583.25 L261.12,584.46 L261.43,585.64 L261.71,586.73 L261.97,587.63 L262.23,588.29 L262.50,588.66 L262.78,588.72 M268.01,580.31 L268.53,580.59 L269.05,581.12 L269.56,581.87 L270.06,582.78 L270.54,583.79 L271.01,584.84 L271.45,585.87 L271.87,586.80 L272.26,587.58 L272.61,588.16 L272.93,588.48 L273.22,588.54 M277.27,579.35 L277.86,579.62 L278.48,580.14 L279.13,580.85 L279.78,581.72 L280.42,582.68 L281.03,583.67 L281.61,584.60 L282.13,585.43 L282.59,586.09 L282.98,586.53 L283.30,586.72 L283.55,586.65 M286.17,577.16 L286.72,577.15 L287.33,577.38 L287.98,577.83 L288.65,578.47 L289.33,579.25 L290.00,580.12 L290.64,581.02 L291.24,581.89 L291.79,582.67 L292.26,583.33 L292.67,583.81 L293.00,584.09 L293.26,584.15 L293.45,583.98 M296.01,574.52 L296.51,574.51 L297.05,574.69 L297.61,575.05 L298.19,575.55 L298.77,576.18 L299.33,576.90 L299.87,577.67 L300.38,578.45 L300.86,579.22 L301.29,579.92 L301.69,580.55 L302.04,581.06 L302.35,581.44 L302.61,581.68 L302.84,581.77 L303.02,581.71 M306.13,572.23 L306.53,572.24 L306.94,572.38 L307.38,572.62 L307.82,572.96 L308.27,573.40 L308.73,573.90 L309.18,574.46 L309.62,575.06 L310.04,575.68 L310.45,576.30 L310.84,576.91 L311.20,577.48 L311.54,578.01 L311.84,578.47 L312.12,578.86 L312.37,579.16 L312.58,579.37 L312.77,579.48 L312.94,579.49 M316.34,569.98 L316.69,569.99 L317.06,570.10 L317.44,570.29 L317.83,570.56 L318.22,570.92 L318.61,571.34 L319.00,571.81 L319.39,572.34 L319.77,572.89 L320.13,573.47 L320.48,574.05 L320.81,574.63 L321.12,575.19 L321.41,575.72 L321.68,576.20 L321.93,576.62 L322.16,576.97 L322.37,577.23 L322.56,577.42 L322.73,577.52 L322.88,577.55 L323.01,577.50 M326.93,568.21 L327.18,568.22 L327.44,568.29 L327.70,568.39 L327.97,568.55 L328.24,568.74 L328.51,568.98 L328.79,569.27 L329.06,569.59 L329.33,569.95 L329.60,570.34 L329.87,570.77 L330.13,571.22 L330.39,571.69 L330.64,572.18 L330.88,572.67 L331.11,573.17 L331.34,573.66 L331.55,574.13 L331.76,574.58 L331.95,575.00 L332.14,575.37 L332.32,575.69 L332.49,575.95 L332.65,576.13 L332.80,576.23 L332.95,576.25 M338.15,567.41 L338.68,567.68 L339.22,568.15 L339.77,568.83 L340.32,569.70 L340.84,570.71 L341.35,571.82 L341.81,572.93 L342.24,573.97 L342.63,574.84 L342.98,575.45 L343.31,575.72 L343.63,575.60 M348.74,566.98 L349.59,567.39 L350.43,568.30 L351.22,569.61 L351.94,571.14 L352.58,572.69 L353.13,574.04 L353.61,575.00 L354.04,575.41 L354.45,575.21 M360.00,566.84 L360.92,567.57 L361.80,568.81 L362.59,570.37 L363.28,572.01 L363.88,573.48 L364.39,574.58 L364.83,575.13 L365.25,575.07 M370.45,566.48 L371.31,566.80 L372.14,567.60 L372.91,568.77 L373.60,570.16 L374.22,571.59 L374.75,572.90 L375.21,573.96 L375.61,574.66 L375.97,574.96 L376.31,574.83 M381.55,566.26 L382.09,566.39 L382.60,566.71 L383.08,567.18 L383.53,567.74 L383.94,568.38 L384.31,569.05 L384.64,569.71" fill="none" stroke="#C4E3BE" stroke-width="0.75" stroke-linecap="round"/>
<path d="M199.30,507.70 C199.75,505.00 200.50,504.30 201.50,503.40 C202.50,502.50 204.13,502.12 205.30,502.30 C206.47,502.48 207.70,503.42 208.50,504.50 C209.30,505.58 209.65,507.27 210.10,508.80 C210.55,510.33 210.12,512.80 211.20,513.70 C212.28,514.60 214.27,514.03 216.60,514.20 C218.93,514.37 222.32,514.17 225.20,514.70 C228.08,515.23 231.02,516.22 233.90,517.40 C236.78,518.58 239.62,520.62 242.50,521.80 C245.38,522.98 248.32,524.05 251.20,524.50 C254.08,524.95 256.93,524.33 259.80,524.50 C262.67,524.67 266.07,524.70 268.40,525.50 C270.73,526.30 272.62,527.95 273.80,529.30 C274.98,530.65 275.67,532.15 275.50,533.60 C275.33,535.05 273.98,536.73 272.80,538.00 C271.62,539.27 269.48,539.62 268.40,541.20 C267.32,542.78 267.55,545.92 266.30,547.50 C265.05,549.08 263.07,550.37 260.90,550.70 C258.73,551.03 255.82,550.05 253.30,549.50 C250.78,548.95 248.68,547.93 245.80,547.40 C242.92,546.87 239.43,546.30 236.00,546.30 C232.57,546.30 228.80,546.87 225.20,547.40 C221.60,547.93 218.00,548.88 214.40,549.50 C210.80,550.12 206.02,551.10 203.60,551.10 C201.18,551.10 200.70,552.05 199.90,549.50 C199.10,546.95 198.98,540.78 198.80,535.80 C198.62,530.82 198.72,524.28 198.80,519.60 C198.88,514.92 198.85,510.40 199.30,507.70Z" fill="#8A5C8B" filter="url(#sh_purple)"/>
<ellipse cx="204" cy="510" rx="2.6" ry="6.5" transform="rotate(-5 204 510)" fill="#C4A6C6" opacity="0.85"/>
<path d="M199.30,507.70 C199.75,505.00 200.50,504.30 201.50,503.40 C202.50,502.50 204.13,502.12 205.30,502.30 C206.47,502.48 207.70,503.42 208.50,504.50 C209.30,505.58 209.65,507.27 210.10,508.80 C210.55,510.33 210.12,512.80 211.20,513.70 C212.28,514.60 214.27,514.03 216.60,514.20 C218.93,514.37 222.32,514.17 225.20,514.70 C228.08,515.23 231.02,516.22 233.90,517.40 C236.78,518.58 239.62,520.62 242.50,521.80 C245.38,522.98 248.32,524.05 251.20,524.50 C254.08,524.95 256.93,524.33 259.80,524.50 C262.67,524.67 266.07,524.70 268.40,525.50 C270.73,526.30 272.62,527.95 273.80,529.30 C274.98,530.65 275.67,532.15 275.50,533.60 C275.33,535.05 273.98,536.73 272.80,538.00 C271.62,539.27 269.48,539.62 268.40,541.20 C267.32,542.78 267.55,545.92 266.30,547.50 C265.05,549.08 263.07,550.37 260.90,550.70 C258.73,551.03 255.82,550.05 253.30,549.50 C250.78,548.95 248.68,547.93 245.80,547.40 C242.92,546.87 239.43,546.30 236.00,546.30 C232.57,546.30 228.80,546.87 225.20,547.40 C221.60,547.93 218.00,548.88 214.40,549.50 C210.80,550.12 206.02,551.10 203.60,551.10 C201.18,551.10 200.70,552.05 199.90,549.50 C199.10,546.95 198.98,540.78 198.80,535.80 C198.62,530.82 198.72,524.28 198.80,519.60 C198.88,514.92 198.85,510.40 199.30,507.70Z" fill="none" stroke="#6A4170" stroke-width="0.6"/>
<text x="209.60" y="536.90" font-size="9.2" font-weight="bold" fill="#FFFFFF" stroke="#FFFFFF" stroke-width="0.6" textLength="36.2" lengthAdjust="spacingAndGlyphs">CBFA2T3</text>
<path d="M200.00,549.40 C201.13,547.78 203.22,549.08 205.70,548.90 C208.18,548.72 211.85,548.60 214.90,548.30 C217.95,548.00 221.15,547.77 224.00,547.10 C226.85,546.43 229.33,544.67 232.00,544.30 C234.67,543.93 237.33,544.13 240.00,544.90 C242.67,545.67 245.33,547.85 248.00,548.90 C250.67,549.95 253.33,550.73 256.00,551.20 C258.67,551.67 261.52,551.13 264.00,551.70 C266.48,552.27 269.27,553.07 270.90,554.60 C272.53,556.13 273.32,558.33 273.80,560.90 C274.28,563.47 274.10,566.77 273.80,570.00 C273.50,573.23 273.05,577.43 272.00,580.30 C270.95,583.17 269.58,585.48 267.50,587.20 C265.42,588.92 262.37,590.22 259.50,590.60 C256.63,590.98 253.17,590.65 250.30,589.50 C247.43,588.35 245.15,585.70 242.30,583.70 C239.45,581.70 236.25,578.83 233.20,577.50 C230.15,576.17 227.43,576.18 224.00,575.70 C220.57,575.22 215.83,575.17 212.60,574.60 C209.37,574.03 206.70,573.63 204.60,572.30 C202.50,570.97 200.95,568.88 200.00,566.60 C199.05,564.32 198.90,561.47 198.90,558.60 C198.90,555.73 198.87,551.02 200.00,549.40Z" fill="#66C1EC" filter="url(#sh_blue)"/>
<path d="M200.00,549.40 C201.13,547.78 203.22,549.08 205.70,548.90 C208.18,548.72 211.85,548.60 214.90,548.30 C217.95,548.00 221.15,547.77 224.00,547.10 C226.85,546.43 229.33,544.67 232.00,544.30 C234.67,543.93 237.33,544.13 240.00,544.90 C242.67,545.67 245.33,547.85 248.00,548.90 C250.67,549.95 253.33,550.73 256.00,551.20 C258.67,551.67 261.52,551.13 264.00,551.70 C266.48,552.27 269.27,553.07 270.90,554.60 C272.53,556.13 273.32,558.33 273.80,560.90 C274.28,563.47 274.10,566.77 273.80,570.00 C273.50,573.23 273.05,577.43 272.00,580.30 C270.95,583.17 269.58,585.48 267.50,587.20 C265.42,588.92 262.37,590.22 259.50,590.60 C256.63,590.98 253.17,590.65 250.30,589.50 C247.43,588.35 245.15,585.70 242.30,583.70 C239.45,581.70 236.25,578.83 233.20,577.50 C230.15,576.17 227.43,576.18 224.00,575.70 C220.57,575.22 215.83,575.17 212.60,574.60 C209.37,574.03 206.70,573.63 204.60,572.30 C202.50,570.97 200.95,568.88 200.00,566.60 C199.05,564.32 198.90,561.47 198.90,558.60 C198.90,555.73 198.87,551.02 200.00,549.40Z" fill="none" stroke="#234F6B" stroke-width="0.75"/>
<text x="221.50" y="565.10" font-size="8.6" font-weight="bold" fill="#111111" stroke="#111111" stroke-width="0.55" textLength="28.3" lengthAdjust="spacingAndGlyphs">RUNX1</text>
<text x="303.2" y="543.7" font-size="9" font-weight="bold" stroke="#000" stroke-width="0.3" textLength="66.7" lengthAdjust="spacingAndGlyphs">Transcription ++</text>
<path d="M323.4,568 L323.4,551.3 L342.5,551.3" fill="none" stroke="#000" stroke-width="2"/>
<path d="M341.5,547 L350.2,551.3 L341.5,555.6Z" fill="#000"/>
<path d="M423.9,558.1 L475,558.1 L475,550.7 L491,566.25 L475,581.8 L475,574 L423.9,574Z" fill="#1FCAA5"/>
<text x="510.6" y="568.8" font-size="17" stroke="#000" stroke-width="0.3" textLength="185.9" lengthAdjust="spacingAndGlyphs">sustains cell proliferation</text>
<path d="M24.90,685.40 C25.47,682.63 26.57,681.28 27.70,680.30 C28.83,679.32 30.45,679.22 31.70,679.50 C32.95,679.78 34.43,680.82 35.20,682.00 C35.97,683.18 35.93,685.07 36.30,686.60 C36.67,688.13 36.07,690.43 37.40,691.20 C38.73,691.97 41.43,690.92 44.30,691.20 C47.17,691.48 51.37,691.95 54.60,692.90 C57.83,693.85 60.65,695.57 63.70,696.90 C66.75,698.23 69.85,700.15 72.90,700.90 C75.95,701.65 78.95,701.22 82.00,701.40 C85.05,701.58 88.52,701.42 91.20,702.00 C93.88,702.58 96.48,703.47 98.10,704.90 C99.72,706.33 100.90,708.88 100.90,710.60 C100.90,712.32 99.33,713.87 98.10,715.20 C96.87,716.53 94.85,717.10 93.50,718.60 C92.15,720.10 91.53,722.82 90.00,724.20 C88.47,725.58 86.77,726.77 84.30,726.90 C81.83,727.03 78.63,725.53 75.20,725.00 C71.77,724.47 67.52,723.82 63.70,723.70 C59.88,723.58 56.10,723.92 52.30,724.30 C48.50,724.68 44.72,725.33 40.90,726.00 C37.08,726.67 31.88,728.30 29.40,728.30 C26.92,728.30 26.75,728.77 26.00,726.00 C25.25,723.23 25.18,716.55 24.90,711.70 C24.62,706.85 24.30,701.28 24.30,696.90 C24.30,692.52 24.33,688.17 24.90,685.40Z" fill="#8A5C8B" filter="url(#sh_purple)"/>
<ellipse cx="30.5" cy="687" rx="2.6" ry="6.5" transform="rotate(-5 30.5 687)" fill="#C4A6C6" opacity="0.85"/>
<path d="M24.90,685.40 C25.47,682.63 26.57,681.28 27.70,680.30 C28.83,679.32 30.45,679.22 31.70,679.50 C32.95,679.78 34.43,680.82 35.20,682.00 C35.97,683.18 35.93,685.07 36.30,686.60 C36.67,688.13 36.07,690.43 37.40,691.20 C38.73,691.97 41.43,690.92 44.30,691.20 C47.17,691.48 51.37,691.95 54.60,692.90 C57.83,693.85 60.65,695.57 63.70,696.90 C66.75,698.23 69.85,700.15 72.90,700.90 C75.95,701.65 78.95,701.22 82.00,701.40 C85.05,701.58 88.52,701.42 91.20,702.00 C93.88,702.58 96.48,703.47 98.10,704.90 C99.72,706.33 100.90,708.88 100.90,710.60 C100.90,712.32 99.33,713.87 98.10,715.20 C96.87,716.53 94.85,717.10 93.50,718.60 C92.15,720.10 91.53,722.82 90.00,724.20 C88.47,725.58 86.77,726.77 84.30,726.90 C81.83,727.03 78.63,725.53 75.20,725.00 C71.77,724.47 67.52,723.82 63.70,723.70 C59.88,723.58 56.10,723.92 52.30,724.30 C48.50,724.68 44.72,725.33 40.90,726.00 C37.08,726.67 31.88,728.30 29.40,728.30 C26.92,728.30 26.75,728.77 26.00,726.00 C25.25,723.23 25.18,716.55 24.90,711.70 C24.62,706.85 24.30,701.28 24.30,696.90 C24.30,692.52 24.33,688.17 24.90,685.40Z" fill="none" stroke="#6A4170" stroke-width="0.6"/>
<text x="36.90" y="712.90" font-size="9.2" font-weight="bold" fill="#FFFFFF" stroke="#FFFFFF" stroke-width="0.6" textLength="34.9" lengthAdjust="spacingAndGlyphs">CBFA2T3</text>
<path d="M26.50,725.40 C27.63,723.78 29.72,725.08 32.20,724.90 C34.68,724.72 38.35,724.60 41.40,724.30 C44.45,724.00 47.65,723.77 50.50,723.10 C53.35,722.43 55.83,720.67 58.50,720.30 C61.17,719.93 63.83,720.13 66.50,720.90 C69.17,721.67 71.83,723.85 74.50,724.90 C77.17,725.95 79.83,726.73 82.50,727.20 C85.17,727.67 88.02,727.13 90.50,727.70 C92.98,728.27 95.77,729.07 97.40,730.60 C99.03,732.13 99.82,734.33 100.30,736.90 C100.78,739.47 100.60,742.77 100.30,746.00 C100.00,749.23 99.55,753.43 98.50,756.30 C97.45,759.17 96.08,761.48 94.00,763.20 C91.92,764.92 88.87,766.22 86.00,766.60 C83.13,766.98 79.67,766.65 76.80,765.50 C73.93,764.35 71.65,761.70 68.80,759.70 C65.95,757.70 62.75,754.83 59.70,753.50 C56.65,752.17 53.93,752.18 50.50,751.70 C47.07,751.22 42.33,751.17 39.10,750.60 C35.87,750.03 33.20,749.63 31.10,748.30 C29.00,746.97 27.45,744.88 26.50,742.60 C25.55,740.32 25.40,737.47 25.40,734.60 C25.40,731.73 25.37,727.02 26.50,725.40Z" fill="#66C1EC" filter="url(#sh_blue)"/>
<path d="M26.50,725.40 C27.63,723.78 29.72,725.08 32.20,724.90 C34.68,724.72 38.35,724.60 41.40,724.30 C44.45,724.00 47.65,723.77 50.50,723.10 C53.35,722.43 55.83,720.67 58.50,720.30 C61.17,719.93 63.83,720.13 66.50,720.90 C69.17,721.67 71.83,723.85 74.50,724.90 C77.17,725.95 79.83,726.73 82.50,727.20 C85.17,727.67 88.02,727.13 90.50,727.70 C92.98,728.27 95.77,729.07 97.40,730.60 C99.03,732.13 99.82,734.33 100.30,736.90 C100.78,739.47 100.60,742.77 100.30,746.00 C100.00,749.23 99.55,753.43 98.50,756.30 C97.45,759.17 96.08,761.48 94.00,763.20 C91.92,764.92 88.87,766.22 86.00,766.60 C83.13,766.98 79.67,766.65 76.80,765.50 C73.93,764.35 71.65,761.70 68.80,759.70 C65.95,757.70 62.75,754.83 59.70,753.50 C56.65,752.17 53.93,752.18 50.50,751.70 C47.07,751.22 42.33,751.17 39.10,750.60 C35.87,750.03 33.20,749.63 31.10,748.30 C29.00,746.97 27.45,744.88 26.50,742.60 C25.55,740.32 25.40,737.47 25.40,734.60 C25.40,731.73 25.37,727.02 26.50,725.40Z" fill="none" stroke="#234F6B" stroke-width="0.75"/>
<text x="48.30" y="741.10" font-size="8.6" font-weight="bold" fill="#111111" stroke="#111111" stroke-width="0.55" textLength="28.0" lengthAdjust="spacingAndGlyphs">RUNX1</text>
<path d="M109.8,705.6 L123,705.6 L123,708.6 L109.8,708.6Z M114.9,701.3 L117.9,701.3 L117.9,713.6 L114.9,713.6Z" fill="#000"/>
<path d="M118.50,686.60 C118.93,685.43 119.82,683.83 120.80,683.10 C121.78,682.37 123.02,682.02 124.40,682.20 C125.78,682.38 127.53,683.17 129.10,684.20 C130.67,685.23 132.33,686.92 133.80,688.40 C135.27,689.88 136.33,691.63 137.90,693.10 C139.47,694.57 141.63,695.83 143.20,697.20 C144.77,698.57 146.42,699.73 147.30,701.30 C148.18,702.87 148.50,704.83 148.50,706.60 C148.50,708.37 148.18,710.33 147.30,711.90 C146.42,713.47 144.77,715.22 143.20,716.00 C141.63,716.78 139.57,716.90 137.90,716.60 C136.23,716.30 134.58,715.48 133.20,714.20 C131.82,712.92 130.58,710.95 129.60,708.90 C128.62,706.85 128.27,703.75 127.30,701.90 C126.33,700.05 125.08,699.18 123.80,697.80 C122.52,696.42 120.53,694.88 119.60,693.60 C118.67,692.32 118.38,691.27 118.20,690.10 C118.02,688.93 118.07,687.77 118.50,686.60Z" fill="#E14C63" filter="url(#sh_red)"/>
<path d="M118.50,686.60 C118.93,685.43 119.82,683.83 120.80,683.10 C121.78,682.37 123.02,682.02 124.40,682.20 C125.78,682.38 127.53,683.17 129.10,684.20 C130.67,685.23 132.33,686.92 133.80,688.40 C135.27,689.88 136.33,691.63 137.90,693.10 C139.47,694.57 141.63,695.83 143.20,697.20 C144.77,698.57 146.42,699.73 147.30,701.30 C148.18,702.87 148.50,704.83 148.50,706.60 C148.50,708.37 148.18,710.33 147.30,711.90 C146.42,713.47 144.77,715.22 143.20,716.00 C141.63,716.78 139.57,716.90 137.90,716.60 C136.23,716.30 134.58,715.48 133.20,714.20 C131.82,712.92 130.58,710.95 129.60,708.90 C128.62,706.85 128.27,703.75 127.30,701.90 C126.33,700.05 125.08,699.18 123.80,697.80 C122.52,696.42 120.53,694.88 119.60,693.60 C118.67,692.32 118.38,691.27 118.20,690.10 C118.02,688.93 118.07,687.77 118.50,686.60Z" fill="none" stroke="#BE3048" stroke-width="0.45"/>
<text x="139" y="689.8" font-size="8.6" font-weight="bold" stroke="#000" stroke-width="0.3" textLength="55.9" lengthAdjust="spacingAndGlyphs">NHR2 peptide</text>
<path d="M138.2,728.7 L183.2,728.7 L183.2,721.8 L198.1,735.90 L183.2,750 L183.2,742.9 L138.2,742.9Z" fill="#E94F67"/>
<path d="M206.27,778.57 L206.37,778.46 L206.45,778.31 L206.51,778.12 L206.55,777.88 L206.58,777.58 L206.59,777.23 L206.59,776.83 L206.57,776.38 L206.54,775.88 L206.50,775.34 L206.46,774.76 L206.41,774.14 L206.37,773.51 L206.34,772.87 L206.33,772.22 L206.34,771.60 L206.38,771.01 L206.46,770.46 L206.57,769.98 L206.73,769.57 L206.94,769.25 L207.20,769.03 L207.52,768.92 M214.71,775.21 L214.78,774.91 L214.81,774.45 L214.80,773.85 L214.76,773.11 L214.71,772.27 L214.67,771.35 L214.65,770.40 L214.66,769.45 L214.71,768.53 L214.83,767.69 L215.00,766.97 L215.25,766.38 L215.57,765.97 L215.96,765.73 L216.41,765.69 M222.61,772.78 L222.73,772.57 L222.82,772.18 L222.90,771.62 L222.97,770.91 L223.05,770.10 L223.15,769.20 L223.28,768.27 L223.46,767.33 L223.67,766.43 L223.94,765.61 L224.25,764.90 L224.59,764.33 L224.98,763.91 L225.39,763.66 L225.83,763.60 M230.72,771.92 L230.90,771.73 L231.09,771.34 L231.30,770.79 L231.54,770.08 L231.80,769.26 L232.10,768.36 L232.43,767.42 L232.79,766.50 L233.19,765.63 L233.61,764.86 L234.05,764.22 L234.51,763.76 L234.98,763.49 L235.44,763.44 M239.63,772.24 L239.86,772.03 L240.12,771.60 L240.40,770.97 L240.72,770.17 L241.08,769.25 L241.46,768.26 L241.89,767.27 L242.34,766.31 L242.81,765.46 L243.30,764.76 L243.80,764.26 L244.30,763.99 L244.79,763.97 M249.11,772.69 L249.37,772.38 L249.66,771.82 L249.96,771.04 L250.30,770.09 L250.66,769.03 L251.06,767.93 L251.49,766.86 L251.97,765.90 L252.48,765.10 L253.01,764.54 L253.56,764.25 L254.12,764.27 M258.47,772.89 L258.75,772.63 L259.05,772.03 L259.40,771.15 L259.78,770.05 L260.22,768.82 L260.71,767.58 L261.24,766.43 L261.82,765.47 L262.42,764.78 L263.04,764.44 L263.66,764.47 M267.97,773.09 L268.27,772.87 L268.59,772.28 L268.94,771.38 L269.34,770.25 L269.78,768.99 L270.27,767.71 L270.81,766.54 L271.39,765.57 L272.00,764.89 L272.62,764.57 L273.25,764.63 M278.00,772.96 L278.29,772.44 L278.60,771.63 L278.94,770.59 L279.32,769.42 L279.73,768.20 L280.18,767.03 L280.67,766.00 L281.19,765.20 L281.74,764.66 L282.30,764.44 L282.88,764.54 M287.99,772.63 L288.23,772.24 L288.46,771.61 L288.69,770.79 L288.92,769.82 L289.18,768.77 L289.45,767.69 L289.76,766.64 L290.10,765.69 L290.48,764.89 L290.90,764.27 L291.35,763.87 L291.83,763.70 M298.07,771.44 L298.27,771.17 L298.44,770.68 L298.59,770.02 L298.73,769.21 L298.88,768.29 L299.05,767.30 L299.23,766.30 L299.44,765.32 L299.70,764.42 L299.99,763.62 L300.33,762.98 L300.72,762.51 L301.15,762.23 L301.62,762.15 M308.09,769.53 L308.25,769.21 L308.39,768.72 L308.51,768.08 L308.63,767.31 L308.75,766.44 L308.89,765.52 L309.06,764.57 L309.25,763.64 L309.48,762.76 L309.76,761.98 L310.08,761.31 L310.44,760.80 L310.85,760.44 L311.29,760.27 L311.76,760.27 M317.87,767.87 L318.04,767.73 L318.19,767.46 L318.32,767.07 L318.43,766.59 L318.54,766.03 L318.64,765.40 L318.75,764.72 L318.85,764.01 L318.97,763.30 L319.10,762.59 L319.24,761.90 L319.39,761.24 L319.57,760.63 L319.77,760.08 L319.99,759.60 L320.23,759.20 L320.49,758.88 L320.78,758.64 L321.08,758.49 L321.41,758.44 M327.99,765.85 L328.13,765.65 L328.25,765.32 L328.37,764.88 L328.49,764.32 L328.61,763.66 L328.75,762.92 L328.91,762.10 L329.09,761.25 L329.31,760.38 L329.56,759.53 L329.86,758.72 L330.20,758.01 L330.59,757.42 L331.02,756.98 L331.50,756.72 L332.01,756.66 M337.86,764.66 L338.14,764.40 L338.41,763.77 L338.69,762.82 L339.02,761.61 L339.41,760.22 L339.88,758.78 L340.46,757.44 L341.14,756.38 L341.93,755.77 L342.79,755.71 M348.54,763.60 L348.99,762.52 L349.51,760.83 L350.15,758.82 L350.94,756.93 L351.88,755.54 L352.96,754.99 L354.10,755.41 M359.10,763.05 L359.63,761.86 L360.25,759.91 L361.01,757.70 L361.95,755.76 L363.06,754.60 L364.27,754.50 M369.73,762.63 L370.27,761.65 L370.88,759.84 L371.62,757.64 L372.53,755.62 L373.59,754.25 L374.77,753.87 M380.80,761.89 L381.31,760.76 L381.89,759.01 L382.58,757.04 L383.39,755.23 L384.33,753.93 L385.34,753.35 L386.39,753.57 M391.46,761.66 L391.85,761.35 L392.24,760.56 L392.64,759.40 L393.09,758.04 L393.59,756.63 L394.14,755.33 L394.73,754.24 L395.35,753.44 L395.99,752.96 L396.63,752.79" fill="none" stroke="#5E9F62" stroke-width="1.9" stroke-linecap="round"/>
<path d="M206.27,778.57 L206.37,778.46 L206.45,778.31 L206.51,778.12 L206.55,777.88 L206.58,777.58 L206.59,777.23 L206.59,776.83 L206.57,776.38 L206.54,775.88 L206.50,775.34 L206.46,774.76 L206.41,774.14 L206.37,773.51 L206.34,772.87 L206.33,772.22 L206.34,771.60 L206.38,771.01 L206.46,770.46 L206.57,769.98 L206.73,769.57 L206.94,769.25 L207.20,769.03 L207.52,768.92 M214.71,775.21 L214.78,774.91 L214.81,774.45 L214.80,773.85 L214.76,773.11 L214.71,772.27 L214.67,771.35 L214.65,770.40 L214.66,769.45 L214.71,768.53 L214.83,767.69 L215.00,766.97 L215.25,766.38 L215.57,765.97 L215.96,765.73 L216.41,765.69 M222.61,772.78 L222.73,772.57 L222.82,772.18 L222.90,771.62 L222.97,770.91 L223.05,770.10 L223.15,769.20 L223.28,768.27 L223.46,767.33 L223.67,766.43 L223.94,765.61 L224.25,764.90 L224.59,764.33 L224.98,763.91 L225.39,763.66 L225.83,763.60 M230.72,771.92 L230.90,771.73 L231.09,771.34 L231.30,770.79 L231.54,770.08 L231.80,769.26 L232.10,768.36 L232.43,767.42 L232.79,766.50 L233.19,765.63 L233.61,764.86 L234.05,764.22 L234.51,763.76 L234.98,763.49 L235.44,763.44 M239.63,772.24 L239.86,772.03 L240.12,771.60 L240.40,770.97 L240.72,770.17 L241.08,769.25 L241.46,768.26 L241.89,767.27 L242.34,766.31 L242.81,765.46 L243.30,764.76 L243.80,764.26 L244.30,763.99 L244.79,763.97 M249.11,772.69 L249.37,772.38 L249.66,771.82 L249.96,771.04 L250.30,770.09 L250.66,769.03 L251.06,767.93 L251.49,766.86 L251.97,765.90 L252.48,765.10 L253.01,764.54 L253.56,764.25 L254.12,764.27 M258.47,772.89 L258.75,772.63 L259.05,772.03 L259.40,771.15 L259.78,770.05 L260.22,768.82 L260.71,767.58 L261.24,766.43 L261.82,765.47 L262.42,764.78 L263.04,764.44 L263.66,764.47 M267.97,773.09 L268.27,772.87 L268.59,772.28 L268.94,771.38 L269.34,770.25 L269.78,768.99 L270.27,767.71 L270.81,766.54 L271.39,765.57 L272.00,764.89 L272.62,764.57 L273.25,764.63 M278.00,772.96 L278.29,772.44 L278.60,771.63 L278.94,770.59 L279.32,769.42 L279.73,768.20 L280.18,767.03 L280.67,766.00 L281.19,765.20 L281.74,764.66 L282.30,764.44 L282.88,764.54 M287.99,772.63 L288.23,772.24 L288.46,771.61 L288.69,770.79 L288.92,769.82 L289.18,768.77 L289.45,767.69 L289.76,766.64 L290.10,765.69 L290.48,764.89 L290.90,764.27 L291.35,763.87 L291.83,763.70 M298.07,771.44 L298.27,771.17 L298.44,770.68 L298.59,770.02 L298.73,769.21 L298.88,768.29 L299.05,767.30 L299.23,766.30 L299.44,765.32 L299.70,764.42 L299.99,763.62 L300.33,762.98 L300.72,762.51 L301.15,762.23 L301.62,762.15 M308.09,769.53 L308.25,769.21 L308.39,768.72 L308.51,768.08 L308.63,767.31 L308.75,766.44 L308.89,765.52 L309.06,764.57 L309.25,763.64 L309.48,762.76 L309.76,761.98 L310.08,761.31 L310.44,760.80 L310.85,760.44 L311.29,760.27 L311.76,760.27 M317.87,767.87 L318.04,767.73 L318.19,767.46 L318.32,767.07 L318.43,766.59 L318.54,766.03 L318.64,765.40 L318.75,764.72 L318.85,764.01 L318.97,763.30 L319.10,762.59 L319.24,761.90 L319.39,761.24 L319.57,760.63 L319.77,760.08 L319.99,759.60 L320.23,759.20 L320.49,758.88 L320.78,758.64 L321.08,758.49 L321.41,758.44 M327.99,765.85 L328.13,765.65 L328.25,765.32 L328.37,764.88 L328.49,764.32 L328.61,763.66 L328.75,762.92 L328.91,762.10 L329.09,761.25 L329.31,760.38 L329.56,759.53 L329.86,758.72 L330.20,758.01 L330.59,757.42 L331.02,756.98 L331.50,756.72 L332.01,756.66 M337.86,764.66 L338.14,764.40 L338.41,763.77 L338.69,762.82 L339.02,761.61 L339.41,760.22 L339.88,758.78 L340.46,757.44 L341.14,756.38 L341.93,755.77 L342.79,755.71 M348.54,763.60 L348.99,762.52 L349.51,760.83 L350.15,758.82 L350.94,756.93 L351.88,755.54 L352.96,754.99 L354.10,755.41 M359.10,763.05 L359.63,761.86 L360.25,759.91 L361.01,757.70 L361.95,755.76 L363.06,754.60 L364.27,754.50 M369.73,762.63 L370.27,761.65 L370.88,759.84 L371.62,757.64 L372.53,755.62 L373.59,754.25 L374.77,753.87 M380.80,761.89 L381.31,760.76 L381.89,759.01 L382.58,757.04 L383.39,755.23 L384.33,753.93 L385.34,753.35 L386.39,753.57 M391.46,761.66 L391.85,761.35 L392.24,760.56 L392.64,759.40 L393.09,758.04 L393.59,756.63 L394.14,755.33 L394.73,754.24 L395.35,753.44 L395.99,752.96 L396.63,752.79" fill="none" stroke="#D6EDD1" stroke-width="0.8" stroke-linecap="round"/>
<path d="M207.52,768.92 L207.88,768.93 L208.30,769.05 L208.76,769.30 L209.25,769.65 L209.78,770.10 L210.33,770.63 L210.89,771.23 L211.44,771.87 L211.99,772.53 L212.51,773.18 L212.99,773.79 L213.43,774.34 L213.81,774.78 L214.13,775.11 L214.39,775.30 L214.58,775.34 L214.71,775.21 M216.41,765.69 L216.91,765.83 L217.46,766.16 L218.03,766.65 L218.62,767.27 L219.21,768.00 L219.78,768.79 L220.32,769.61 L220.82,770.40 L221.26,771.14 L221.65,771.78 L221.98,772.28 L222.24,772.63 L222.45,772.80 L222.61,772.78 M225.83,763.60 L226.28,763.72 L226.74,764.03 L227.20,764.50 L227.64,765.12 L228.06,765.86 L228.46,766.69 L228.83,767.57 L229.16,768.46 L229.46,769.32 L229.73,770.11 L229.97,770.79 L230.18,771.34 L230.37,771.72 L230.55,771.92 L230.72,771.92 M235.44,763.44 L235.89,763.60 L236.33,763.98 L236.74,764.54 L237.13,765.28 L237.49,766.15 L237.81,767.11 L238.10,768.10 L238.36,769.09 L238.60,770.02 L238.82,770.83 L239.02,771.50 L239.22,771.97 L239.42,772.22 L239.63,772.24 M244.79,763.97 L245.27,764.19 L245.73,764.67 L246.16,765.36 L246.56,766.22 L246.93,767.22 L247.27,768.29 L247.58,769.36 L247.87,770.38 L248.13,771.27 L248.38,771.99 L248.62,772.48 L248.87,772.72 L249.11,772.69 M254.12,764.27 L254.67,764.59 L255.21,765.21 L255.71,766.08 L256.18,767.15 L256.61,768.32 L257.00,769.53 L257.34,770.66 L257.65,771.63 L257.93,772.37 L258.20,772.80 L258.47,772.89 M263.66,764.47 L264.27,764.87 L264.85,765.62 L265.39,766.64 L265.88,767.85 L266.32,769.14 L266.72,770.40 L267.07,771.52 L267.39,772.38 L267.69,772.92 L267.97,773.09 M273.25,764.63 L273.86,765.05 L274.45,765.81 L275.01,766.84 L275.52,768.03 L275.98,769.30 L276.40,770.52 L276.77,771.59 L277.11,772.43 L277.42,772.96 L277.71,773.14 L278.00,772.96 M282.88,764.54 L283.46,764.94 L284.02,765.61 L284.57,766.49 L285.09,767.52 L285.58,768.62 L286.03,769.71 L286.44,770.71 L286.82,771.57 L287.16,772.21 L287.46,772.62 L287.74,772.76 L287.99,772.63 M291.83,763.70 L292.35,763.78 L292.89,764.09 L293.44,764.60 L293.99,765.29 L294.54,766.11 L295.07,767.02 L295.59,767.95 L296.07,768.86 L296.51,769.70 L296.91,770.42 L297.27,770.98 L297.58,771.35 L297.84,771.51 L298.07,771.44 M301.62,762.15 L302.12,762.27 L302.65,762.59 L303.20,763.07 L303.76,763.69 L304.31,764.43 L304.85,765.24 L305.37,766.08 L305.86,766.91 L306.32,767.69 L306.73,768.38 L307.09,768.95 L307.41,769.36 L307.68,769.60 L307.90,769.66 L308.09,769.53 M311.76,760.27 L312.27,760.46 L312.78,760.81 L313.31,761.32 L313.84,761.95 L314.35,762.68 L314.85,763.47 L315.32,764.28 L315.77,765.09 L316.18,765.84 L316.55,766.50 L316.89,767.05 L317.19,767.47 L317.45,767.75 L317.67,767.88 L317.87,767.87 M321.41,758.44 L321.75,758.47 L322.11,758.60 L322.48,758.80 L322.86,759.09 L323.25,759.45 L323.64,759.87 L324.04,760.35 L324.43,760.87 L324.81,761.43 L325.18,762.01 L325.54,762.59 L325.88,763.18 L326.21,763.74 L326.51,764.26 L326.79,764.74 L327.05,765.16 L327.28,765.49 L327.49,765.74 L327.68,765.89 L327.85,765.93 L327.99,765.85 M332.01,756.66 L332.56,756.83 L333.13,757.21 L333.71,757.80 L334.30,758.57 L334.87,759.50 L335.43,760.52 L335.94,761.56 L336.42,762.57 L336.85,763.46 L337.23,764.14 L337.57,764.56 L337.86,764.66 M342.79,755.71 L343.70,756.26 L344.62,757.36 L345.50,758.89 L346.30,760.59 L347.00,762.18 L347.60,763.36 L348.10,763.88 L348.54,763.60 M354.10,755.41 L355.24,756.71 L356.29,758.61 L357.21,760.65 L357.96,762.33 L358.57,763.21 L359.10,763.05 M364.27,754.50 L365.50,755.49 L366.66,757.30 L367.67,759.45 L368.50,761.35 L369.17,762.52 L369.73,762.63 M374.77,753.87 L375.97,754.53 L377.12,756.04 L378.15,758.03 L379.02,760.00 L379.72,761.48 L380.29,762.16 L380.80,761.89 M386.39,753.57 L387.41,754.49 L388.36,755.93 L389.21,757.60 L389.93,759.22 L390.53,760.55 L391.03,761.39 L391.46,761.66 M396.63,752.79 L397.25,752.91 L397.84,753.27 L398.40,753.80 L398.91,754.46" fill="none" stroke="#3A8340" stroke-width="2.0" stroke-linecap="round"/>
<path d="M207.52,768.92 L207.88,768.93 L208.30,769.05 L208.76,769.30 L209.25,769.65 L209.78,770.10 L210.33,770.63 L210.89,771.23 L211.44,771.87 L211.99,772.53 L212.51,773.18 L212.99,773.79 L213.43,774.34 L213.81,774.78 L214.13,775.11 L214.39,775.30 L214.58,775.34 L214.71,775.21 M216.41,765.69 L216.91,765.83 L217.46,766.16 L218.03,766.65 L218.62,767.27 L219.21,768.00 L219.78,768.79 L220.32,769.61 L220.82,770.40 L221.26,771.14 L221.65,771.78 L221.98,772.28 L222.24,772.63 L222.45,772.80 L222.61,772.78 M225.83,763.60 L226.28,763.72 L226.74,764.03 L227.20,764.50 L227.64,765.12 L228.06,765.86 L228.46,766.69 L228.83,767.57 L229.16,768.46 L229.46,769.32 L229.73,770.11 L229.97,770.79 L230.18,771.34 L230.37,771.72 L230.55,771.92 L230.72,771.92 M235.44,763.44 L235.89,763.60 L236.33,763.98 L236.74,764.54 L237.13,765.28 L237.49,766.15 L237.81,767.11 L238.10,768.10 L238.36,769.09 L238.60,770.02 L238.82,770.83 L239.02,771.50 L239.22,771.97 L239.42,772.22 L239.63,772.24 M244.79,763.97 L245.27,764.19 L245.73,764.67 L246.16,765.36 L246.56,766.22 L246.93,767.22 L247.27,768.29 L247.58,769.36 L247.87,770.38 L248.13,771.27 L248.38,771.99 L248.62,772.48 L248.87,772.72 L249.11,772.69 M254.12,764.27 L254.67,764.59 L255.21,765.21 L255.71,766.08 L256.18,767.15 L256.61,768.32 L257.00,769.53 L257.34,770.66 L257.65,771.63 L257.93,772.37 L258.20,772.80 L258.47,772.89 M263.66,764.47 L264.27,764.87 L264.85,765.62 L265.39,766.64 L265.88,767.85 L266.32,769.14 L266.72,770.40 L267.07,771.52 L267.39,772.38 L267.69,772.92 L267.97,773.09 M273.25,764.63 L273.86,765.05 L274.45,765.81 L275.01,766.84 L275.52,768.03 L275.98,769.30 L276.40,770.52 L276.77,771.59 L277.11,772.43 L277.42,772.96 L277.71,773.14 L278.00,772.96 M282.88,764.54 L283.46,764.94 L284.02,765.61 L284.57,766.49 L285.09,767.52 L285.58,768.62 L286.03,769.71 L286.44,770.71 L286.82,771.57 L287.16,772.21 L287.46,772.62 L287.74,772.76 L287.99,772.63 M291.83,763.70 L292.35,763.78 L292.89,764.09 L293.44,764.60 L293.99,765.29 L294.54,766.11 L295.07,767.02 L295.59,767.95 L296.07,768.86 L296.51,769.70 L296.91,770.42 L297.27,770.98 L297.58,771.35 L297.84,771.51 L298.07,771.44 M301.62,762.15 L302.12,762.27 L302.65,762.59 L303.20,763.07 L303.76,763.69 L304.31,764.43 L304.85,765.24 L305.37,766.08 L305.86,766.91 L306.32,767.69 L306.73,768.38 L307.09,768.95 L307.41,769.36 L307.68,769.60 L307.90,769.66 L308.09,769.53 M311.76,760.27 L312.27,760.46 L312.78,760.81 L313.31,761.32 L313.84,761.95 L314.35,762.68 L314.85,763.47 L315.32,764.28 L315.77,765.09 L316.18,765.84 L316.55,766.50 L316.89,767.05 L317.19,767.47 L317.45,767.75 L317.67,767.88 L317.87,767.87 M321.41,758.44 L321.75,758.47 L322.11,758.60 L322.48,758.80 L322.86,759.09 L323.25,759.45 L323.64,759.87 L324.04,760.35 L324.43,760.87 L324.81,761.43 L325.18,762.01 L325.54,762.59 L325.88,763.18 L326.21,763.74 L326.51,764.26 L326.79,764.74 L327.05,765.16 L327.28,765.49 L327.49,765.74 L327.68,765.89 L327.85,765.93 L327.99,765.85 M332.01,756.66 L332.56,756.83 L333.13,757.21 L333.71,757.80 L334.30,758.57 L334.87,759.50 L335.43,760.52 L335.94,761.56 L336.42,762.57 L336.85,763.46 L337.23,764.14 L337.57,764.56 L337.86,764.66 M342.79,755.71 L343.70,756.26 L344.62,757.36 L345.50,758.89 L346.30,760.59 L347.00,762.18 L347.60,763.36 L348.10,763.88 L348.54,763.60 M354.10,755.41 L355.24,756.71 L356.29,758.61 L357.21,760.65 L357.96,762.33 L358.57,763.21 L359.10,763.05 M364.27,754.50 L365.50,755.49 L366.66,757.30 L367.67,759.45 L368.50,761.35 L369.17,762.52 L369.73,762.63 M374.77,753.87 L375.97,754.53 L377.12,756.04 L378.15,758.03 L379.02,760.00 L379.72,761.48 L380.29,762.16 L380.80,761.89 M386.39,753.57 L387.41,754.49 L388.36,755.93 L389.21,757.60 L389.93,759.22 L390.53,760.55 L391.03,761.39 L391.46,761.66 M396.63,752.79 L397.25,752.91 L397.84,753.27 L398.40,753.80 L398.91,754.46" fill="none" stroke="#C4E3BE" stroke-width="0.75" stroke-linecap="round"/>
<path d="M208.76,777.64 L208.84,777.48 L208.89,777.22 L208.91,776.88 L208.90,776.44 L208.87,775.92 L208.82,775.32 L208.75,774.66 L208.69,773.94 L208.62,773.18 L208.57,772.40 L208.55,771.62 L208.55,770.86 L208.60,770.15 L208.69,769.51 L208.84,768.96 L209.05,768.52 L209.32,768.21 L209.66,768.03 M216.85,774.45 L216.94,774.17 L216.98,773.72 L216.99,773.10 L216.97,772.34 L216.95,771.48 L216.94,770.54 L216.95,769.56 L216.99,768.59 L217.09,767.67 L217.24,766.83 L217.46,766.11 L217.75,765.55 L218.10,765.16 L218.52,764.97 M224.72,772.37 L224.84,772.19 L224.95,771.83 L225.06,771.31 L225.17,770.65 L225.31,769.88 L225.47,769.02 L225.66,768.12 L225.89,767.20 L226.15,766.31 L226.45,765.49 L226.80,764.76 L227.17,764.17 L227.58,763.73 L228.00,763.48 L228.45,763.41 M233.11,771.92 L233.30,771.69 L233.52,771.26 L233.76,770.65 L234.03,769.90 L234.34,769.04 L234.67,768.11 L235.05,767.16 L235.45,766.23 L235.88,765.39 L236.33,764.66 L236.80,764.10 L237.28,763.72 L237.75,763.56 L238.22,763.62 M242.10,772.41 L242.33,772.23 L242.59,771.82 L242.88,771.20 L243.21,770.40 L243.56,769.46 L243.95,768.46 L244.38,767.43 L244.83,766.45 L245.31,765.58 L245.80,764.87 L246.31,764.37 L246.81,764.10 L247.31,764.10 M251.57,772.80 L251.82,772.65 L252.07,772.23 L252.35,771.55 L252.66,770.65 L253.02,769.60 L253.42,768.46 L253.86,767.31 L254.35,766.25 L254.88,765.36 L255.44,764.70 L256.01,764.33 L256.59,764.28 M261.08,772.93 L261.37,772.60 L261.69,771.93 L262.05,770.97 L262.46,769.81 L262.92,768.56 L263.42,767.31 L263.98,766.18 L264.57,765.28 L265.19,764.69 L265.82,764.46 L266.44,764.61 M270.70,773.09 L271.00,772.73 L271.33,772.03 L271.69,771.04 L272.09,769.86 L272.54,768.58 L273.04,767.34 L273.58,766.23 L274.16,765.35 L274.76,764.77 L275.38,764.55 L276.00,764.71 M280.41,773.09 L280.69,772.90 L280.98,772.39 L281.27,771.60 L281.59,770.60 L281.93,769.46 L282.30,768.28 L282.72,767.13 L283.16,766.11 L283.64,765.27 L284.15,764.68 L284.68,764.37 L285.23,764.35 M290.54,772.51 L290.78,772.34 L291.00,771.93 L291.20,771.31 L291.41,770.50 L291.61,769.55 L291.84,768.52 L292.08,767.46 L292.35,766.43 L292.66,765.48 L293.01,764.67 L293.40,764.03 L293.83,763.59 L294.29,763.37 L294.79,763.38 M300.68,771.04 L300.88,770.88 L301.05,770.52 L301.20,769.97 L301.34,769.26 L301.47,768.41 L301.61,767.48 L301.76,766.50 L301.94,765.52 L302.15,764.58 L302.41,763.71 L302.71,762.96 L303.05,762.36 L303.44,761.93 L303.87,761.69 L304.34,761.65 M310.73,769.03 L310.89,768.74 L311.03,768.27 L311.15,767.65 L311.27,766.91 L311.40,766.07 L311.55,765.16 L311.72,764.23 L311.92,763.30 L312.16,762.43 L312.44,761.63 L312.76,760.95 L313.12,760.41 L313.52,760.03 L313.96,759.82 L314.42,759.79 M320.65,767.35 L320.80,767.25 L320.92,767.05 L321.04,766.76 L321.13,766.38 L321.22,765.93 L321.31,765.41 L321.39,764.84 L321.47,764.22 L321.56,763.58 L321.66,762.92 L321.77,762.26 L321.89,761.60 L322.03,760.96 L322.19,760.36 L322.38,759.80 L322.59,759.29 L322.82,758.85 L323.08,758.48 L323.37,758.20 L323.68,758.00 L324.01,757.89 M330.58,765.48 L330.75,765.29 L330.91,764.93 L331.07,764.41 L331.23,763.73 L331.40,762.92 L331.60,762.01 L331.83,761.02 L332.11,760.01 L332.43,759.02 L332.81,758.12 L333.24,757.35 L333.73,756.77 L334.28,756.42 L334.87,756.34 M340.79,764.32 L341.11,763.77 L341.45,762.74 L341.85,761.34 L342.32,759.72 L342.91,758.08 L343.63,756.69 L344.46,755.75 L345.39,755.47 M351.06,763.72 L351.53,763.19 L352.02,761.83 L352.61,759.89 L353.34,757.81 L354.24,756.03 L355.30,754.98 L356.45,754.93 M361.82,763.07 L362.35,762.19 L362.94,760.43 L363.66,758.22 L364.56,756.13 L365.63,754.69 L366.83,754.26 M372.49,762.57 L373.02,761.95 L373.59,760.40 L374.27,758.32 L375.10,756.21 L376.09,754.56 L377.21,753.76 L378.38,753.96 M383.44,762.04 L383.92,761.50 L384.42,760.24 L384.98,758.51 L385.66,756.64 L386.44,754.97 L387.32,753.78 L388.27,753.22 L389.24,753.35 M394.48,761.51 L394.82,761.27 L395.15,760.66 L395.48,759.79 L395.83,758.74 L396.20,757.62 L396.59,756.51 L397.01,755.50 L397.44,754.61 L397.87,753.89" fill="none" stroke="#5E9F62" stroke-width="1.9" stroke-linecap="round"/>
<path d="M208.76,777.64 L208.84,777.48 L208.89,777.22 L208.91,776.88 L208.90,776.44 L208.87,775.92 L208.82,775.32 L208.75,774.66 L208.69,773.94 L208.62,773.18 L208.57,772.40 L208.55,771.62 L208.55,770.86 L208.60,770.15 L208.69,769.51 L208.84,768.96 L209.05,768.52 L209.32,768.21 L209.66,768.03 M216.85,774.45 L216.94,774.17 L216.98,773.72 L216.99,773.10 L216.97,772.34 L216.95,771.48 L216.94,770.54 L216.95,769.56 L216.99,768.59 L217.09,767.67 L217.24,766.83 L217.46,766.11 L217.75,765.55 L218.10,765.16 L218.52,764.97 M224.72,772.37 L224.84,772.19 L224.95,771.83 L225.06,771.31 L225.17,770.65 L225.31,769.88 L225.47,769.02 L225.66,768.12 L225.89,767.20 L226.15,766.31 L226.45,765.49 L226.80,764.76 L227.17,764.17 L227.58,763.73 L228.00,763.48 L228.45,763.41 M233.11,771.92 L233.30,771.69 L233.52,771.26 L233.76,770.65 L234.03,769.90 L234.34,769.04 L234.67,768.11 L235.05,767.16 L235.45,766.23 L235.88,765.39 L236.33,764.66 L236.80,764.10 L237.28,763.72 L237.75,763.56 L238.22,763.62 M242.10,772.41 L242.33,772.23 L242.59,771.82 L242.88,771.20 L243.21,770.40 L243.56,769.46 L243.95,768.46 L244.38,767.43 L244.83,766.45 L245.31,765.58 L245.80,764.87 L246.31,764.37 L246.81,764.10 L247.31,764.10 M251.57,772.80 L251.82,772.65 L252.07,772.23 L252.35,771.55 L252.66,770.65 L253.02,769.60 L253.42,768.46 L253.86,767.31 L254.35,766.25 L254.88,765.36 L255.44,764.70 L256.01,764.33 L256.59,764.28 M261.08,772.93 L261.37,772.60 L261.69,771.93 L262.05,770.97 L262.46,769.81 L262.92,768.56 L263.42,767.31 L263.98,766.18 L264.57,765.28 L265.19,764.69 L265.82,764.46 L266.44,764.61 M270.70,773.09 L271.00,772.73 L271.33,772.03 L271.69,771.04 L272.09,769.86 L272.54,768.58 L273.04,767.34 L273.58,766.23 L274.16,765.35 L274.76,764.77 L275.38,764.55 L276.00,764.71 M280.41,773.09 L280.69,772.90 L280.98,772.39 L281.27,771.60 L281.59,770.60 L281.93,769.46 L282.30,768.28 L282.72,767.13 L283.16,766.11 L283.64,765.27 L284.15,764.68 L284.68,764.37 L285.23,764.35 M290.54,772.51 L290.78,772.34 L291.00,771.93 L291.20,771.31 L291.41,770.50 L291.61,769.55 L291.84,768.52 L292.08,767.46 L292.35,766.43 L292.66,765.48 L293.01,764.67 L293.40,764.03 L293.83,763.59 L294.29,763.37 L294.79,763.38 M300.68,771.04 L300.88,770.88 L301.05,770.52 L301.20,769.97 L301.34,769.26 L301.47,768.41 L301.61,767.48 L301.76,766.50 L301.94,765.52 L302.15,764.58 L302.41,763.71 L302.71,762.96 L303.05,762.36 L303.44,761.93 L303.87,761.69 L304.34,761.65 M310.73,769.03 L310.89,768.74 L311.03,768.27 L311.15,767.65 L311.27,766.91 L311.40,766.07 L311.55,765.16 L311.72,764.23 L311.92,763.30 L312.16,762.43 L312.44,761.63 L312.76,760.95 L313.12,760.41 L313.52,760.03 L313.96,759.82 L314.42,759.79 M320.65,767.35 L320.80,767.25 L320.92,767.05 L321.04,766.76 L321.13,766.38 L321.22,765.93 L321.31,765.41 L321.39,764.84 L321.47,764.22 L321.56,763.58 L321.66,762.92 L321.77,762.26 L321.89,761.60 L322.03,760.96 L322.19,760.36 L322.38,759.80 L322.59,759.29 L322.82,758.85 L323.08,758.48 L323.37,758.20 L323.68,758.00 L324.01,757.89 M330.58,765.48 L330.75,765.29 L330.91,764.93 L331.07,764.41 L331.23,763.73 L331.40,762.92 L331.60,762.01 L331.83,761.02 L332.11,760.01 L332.43,759.02 L332.81,758.12 L333.24,757.35 L333.73,756.77 L334.28,756.42 L334.87,756.34 M340.79,764.32 L341.11,763.77 L341.45,762.74 L341.85,761.34 L342.32,759.72 L342.91,758.08 L343.63,756.69 L344.46,755.75 L345.39,755.47 M351.06,763.72 L351.53,763.19 L352.02,761.83 L352.61,759.89 L353.34,757.81 L354.24,756.03 L355.30,754.98 L356.45,754.93 M361.82,763.07 L362.35,762.19 L362.94,760.43 L363.66,758.22 L364.56,756.13 L365.63,754.69 L366.83,754.26 M372.49,762.57 L373.02,761.95 L373.59,760.40 L374.27,758.32 L375.10,756.21 L376.09,754.56 L377.21,753.76 L378.38,753.96 M383.44,762.04 L383.92,761.50 L384.42,760.24 L384.98,758.51 L385.66,756.64 L386.44,754.97 L387.32,753.78 L388.27,753.22 L389.24,753.35 M394.48,761.51 L394.82,761.27 L395.15,760.66 L395.48,759.79 L395.83,758.74 L396.20,757.62 L396.59,756.51 L397.01,755.50 L397.44,754.61 L397.87,753.89" fill="none" stroke="#D6EDD1" stroke-width="0.8" stroke-linecap="round"/>
<path d="M205.50,774.33 L205.76,774.68 L206.03,775.03 L206.30,775.39 L206.58,775.75 L206.86,776.10 L207.14,776.44 L207.41,776.76 L207.67,777.05 L207.91,777.30 L208.13,777.50 L208.33,777.64 L208.51,777.72 L208.65,777.72 L208.76,777.64 M209.66,768.03 L210.06,768.00 L210.51,768.11 L211.01,768.37 L211.56,768.76 L212.13,769.27 L212.72,769.88 L213.32,770.55 L213.90,771.26 L214.46,771.98 L214.98,772.67 L215.45,773.29 L215.86,773.82 L216.21,774.22 L216.49,774.47 L216.71,774.55 L216.85,774.45 M218.52,764.97 L218.98,764.97 L219.49,765.16 L220.03,765.53 L220.59,766.06 L221.15,766.72 L221.70,767.48 L222.22,768.30 L222.71,769.13 L223.15,769.94 L223.54,770.68 L223.87,771.33 L224.16,771.84 L224.39,772.19 L224.57,772.37 L224.72,772.37 M228.45,763.41 L228.90,763.53 L229.34,763.85 L229.78,764.34 L230.20,764.98 L230.60,765.75 L230.97,766.62 L231.30,767.53 L231.61,768.45 L231.88,769.34 L232.13,770.15 L232.35,770.85 L232.55,771.40 L232.73,771.77 L232.92,771.95 L233.11,771.92 M238.22,763.62 L238.67,763.91 L239.10,764.41 L239.50,765.10 L239.86,765.95 L240.20,766.90 L240.50,767.91 L240.78,768.93 L241.02,769.91 L241.25,770.78 L241.46,771.50 L241.67,772.03 L241.88,772.34 L242.10,772.41 M247.31,764.10 L247.80,764.35 L248.27,764.86 L248.71,765.59 L249.13,766.50 L249.52,767.53 L249.88,768.62 L250.21,769.71 L250.51,770.71 L250.79,771.57 L251.06,772.24 L251.32,772.65 L251.57,772.80 M256.59,764.28 L257.17,764.57 L257.72,765.18 L258.25,766.07 L258.73,767.16 L259.17,768.38 L259.57,769.62 L259.92,770.78 L260.24,771.76 L260.53,772.49 L260.80,772.89 L261.08,772.93 M266.44,764.61 L267.05,765.13 L267.62,765.99 L268.15,767.09 L268.63,768.35 L269.07,769.65 L269.45,770.87 L269.80,771.90 L270.11,772.66 L270.41,773.06 L270.70,773.09 M276.00,764.71 L276.60,765.21 L277.18,766.02 L277.73,767.07 L278.23,768.26 L278.69,769.50 L279.11,770.67 L279.48,771.69 L279.82,772.46 L280.13,772.95 L280.41,773.09 M285.23,764.35 L285.79,764.61 L286.34,765.13 L286.89,765.87 L287.42,766.78 L287.92,767.78 L288.40,768.82 L288.85,769.83 L289.26,770.74 L289.64,771.51 L289.97,772.08 L290.27,772.42 L290.54,772.51 M294.79,763.38 L295.32,763.62 L295.87,764.06 L296.42,764.67 L296.98,765.42 L297.52,766.27 L298.05,767.17 L298.55,768.07 L299.02,768.92 L299.44,769.67 L299.82,770.28 L300.15,770.73 L300.43,770.99 L300.68,771.04 M304.34,761.65 L304.85,761.79 L305.38,762.12 L305.92,762.61 L306.47,763.24 L307.02,763.97 L307.56,764.77 L308.07,765.59 L308.55,766.41 L308.99,767.18 L309.39,767.86 L309.75,768.42 L310.06,768.83 L310.32,769.08 L310.55,769.15 L310.73,769.03 M314.42,759.79 L314.89,759.94 L315.37,760.24 L315.85,760.68 L316.33,761.22 L316.80,761.85 L317.26,762.52 L317.70,763.23 L318.12,763.93 L318.51,764.61 L318.88,765.25 L319.22,765.82 L319.53,766.32 L319.81,766.73 L320.06,767.04 L320.28,767.25 L320.48,767.35 L320.65,767.35 M324.01,757.89 L324.36,757.88 L324.74,757.97 L325.13,758.15 L325.53,758.43 L325.95,758.80 L326.37,759.26 L326.79,759.78 L327.21,760.37 L327.62,761.00 L328.02,761.66 L328.40,762.34 L328.76,763.00 L329.10,763.63 L329.41,764.20 L329.70,764.70 L329.96,765.09 L330.19,765.37 L330.40,765.50 L330.58,765.48 M334.87,756.34 L335.50,756.55 L336.15,757.05 L336.81,757.82 L337.46,758.81 L338.09,759.95 L338.67,761.15 L339.21,762.31 L339.68,763.30 L340.09,764.03 L340.46,764.40 L340.79,764.32 M345.39,755.47 L346.39,755.91 L347.38,757.03 L348.34,758.66 L349.19,760.49 L349.93,762.17 L350.54,763.33 L351.06,763.72 M356.45,754.93 L357.63,755.88 L358.76,757.62 L359.76,759.71 L360.59,761.62 L361.26,762.85 L361.82,763.07 M366.83,754.26 L368.07,754.95 L369.25,756.55 L370.31,758.65 L371.19,760.68 L371.90,762.11 L372.49,762.57 M378.38,753.96 L379.54,755.08 L380.60,756.83 L381.53,758.80 L382.29,760.55 L382.92,761.70 L383.44,762.04 M389.24,753.35 L390.19,754.10 L391.08,755.31 L391.89,756.79 L392.59,758.30 L393.19,759.66 L393.69,760.70 L394.11,761.33 L394.48,761.51" fill="none" stroke="#3A8340" stroke-width="2.0" stroke-linecap="round"/>
<path d="M205.50,774.33 L205.76,774.68 L206.03,775.03 L206.30,775.39 L206.58,775.75 L206.86,776.10 L207.14,776.44 L207.41,776.76 L207.67,777.05 L207.91,777.30 L208.13,777.50 L208.33,777.64 L208.51,777.72 L208.65,777.72 L208.76,777.64 M209.66,768.03 L210.06,768.00 L210.51,768.11 L211.01,768.37 L211.56,768.76 L212.13,769.27 L212.72,769.88 L213.32,770.55 L213.90,771.26 L214.46,771.98 L214.98,772.67 L215.45,773.29 L215.86,773.82 L216.21,774.22 L216.49,774.47 L216.71,774.55 L216.85,774.45 M218.52,764.97 L218.98,764.97 L219.49,765.16 L220.03,765.53 L220.59,766.06 L221.15,766.72 L221.70,767.48 L222.22,768.30 L222.71,769.13 L223.15,769.94 L223.54,770.68 L223.87,771.33 L224.16,771.84 L224.39,772.19 L224.57,772.37 L224.72,772.37 M228.45,763.41 L228.90,763.53 L229.34,763.85 L229.78,764.34 L230.20,764.98 L230.60,765.75 L230.97,766.62 L231.30,767.53 L231.61,768.45 L231.88,769.34 L232.13,770.15 L232.35,770.85 L232.55,771.40 L232.73,771.77 L232.92,771.95 L233.11,771.92 M238.22,763.62 L238.67,763.91 L239.10,764.41 L239.50,765.10 L239.86,765.95 L240.20,766.90 L240.50,767.91 L240.78,768.93 L241.02,769.91 L241.25,770.78 L241.46,771.50 L241.67,772.03 L241.88,772.34 L242.10,772.41 M247.31,764.10 L247.80,764.35 L248.27,764.86 L248.71,765.59 L249.13,766.50 L249.52,767.53 L249.88,768.62 L250.21,769.71 L250.51,770.71 L250.79,771.57 L251.06,772.24 L251.32,772.65 L251.57,772.80 M256.59,764.28 L257.17,764.57 L257.72,765.18 L258.25,766.07 L258.73,767.16 L259.17,768.38 L259.57,769.62 L259.92,770.78 L260.24,771.76 L260.53,772.49 L260.80,772.89 L261.08,772.93 M266.44,764.61 L267.05,765.13 L267.62,765.99 L268.15,767.09 L268.63,768.35 L269.07,769.65 L269.45,770.87 L269.80,771.90 L270.11,772.66 L270.41,773.06 L270.70,773.09 M276.00,764.71 L276.60,765.21 L277.18,766.02 L277.73,767.07 L278.23,768.26 L278.69,769.50 L279.11,770.67 L279.48,771.69 L279.82,772.46 L280.13,772.95 L280.41,773.09 M285.23,764.35 L285.79,764.61 L286.34,765.13 L286.89,765.87 L287.42,766.78 L287.92,767.78 L288.40,768.82 L288.85,769.83 L289.26,770.74 L289.64,771.51 L289.97,772.08 L290.27,772.42 L290.54,772.51 M294.79,763.38 L295.32,763.62 L295.87,764.06 L296.42,764.67 L296.98,765.42 L297.52,766.27 L298.05,767.17 L298.55,768.07 L299.02,768.92 L299.44,769.67 L299.82,770.28 L300.15,770.73 L300.43,770.99 L300.68,771.04 M304.34,761.65 L304.85,761.79 L305.38,762.12 L305.92,762.61 L306.47,763.24 L307.02,763.97 L307.56,764.77 L308.07,765.59 L308.55,766.41 L308.99,767.18 L309.39,767.86 L309.75,768.42 L310.06,768.83 L310.32,769.08 L310.55,769.15 L310.73,769.03 M314.42,759.79 L314.89,759.94 L315.37,760.24 L315.85,760.68 L316.33,761.22 L316.80,761.85 L317.26,762.52 L317.70,763.23 L318.12,763.93 L318.51,764.61 L318.88,765.25 L319.22,765.82 L319.53,766.32 L319.81,766.73 L320.06,767.04 L320.28,767.25 L320.48,767.35 L320.65,767.35 M324.01,757.89 L324.36,757.88 L324.74,757.97 L325.13,758.15 L325.53,758.43 L325.95,758.80 L326.37,759.26 L326.79,759.78 L327.21,760.37 L327.62,761.00 L328.02,761.66 L328.40,762.34 L328.76,763.00 L329.10,763.63 L329.41,764.20 L329.70,764.70 L329.96,765.09 L330.19,765.37 L330.40,765.50 L330.58,765.48 M334.87,756.34 L335.50,756.55 L336.15,757.05 L336.81,757.82 L337.46,758.81 L338.09,759.95 L338.67,761.15 L339.21,762.31 L339.68,763.30 L340.09,764.03 L340.46,764.40 L340.79,764.32 M345.39,755.47 L346.39,755.91 L347.38,757.03 L348.34,758.66 L349.19,760.49 L349.93,762.17 L350.54,763.33 L351.06,763.72 M356.45,754.93 L357.63,755.88 L358.76,757.62 L359.76,759.71 L360.59,761.62 L361.26,762.85 L361.82,763.07 M366.83,754.26 L368.07,754.95 L369.25,756.55 L370.31,758.65 L371.19,760.68 L371.90,762.11 L372.49,762.57 M378.38,753.96 L379.54,755.08 L380.60,756.83 L381.53,758.80 L382.29,760.55 L382.92,761.70 L383.44,762.04 M389.24,753.35 L390.19,754.10 L391.08,755.31 L391.89,756.79 L392.59,758.30 L393.19,759.66 L393.69,760.70 L394.11,761.33 L394.48,761.51" fill="none" stroke="#C4E3BE" stroke-width="0.75" stroke-linecap="round"/>
<path d="M249.50,710.90 C250.37,709.95 251.70,708.38 253.50,708.00 C255.30,707.62 257.63,707.65 260.30,708.60 C262.97,709.55 266.45,711.90 269.50,713.70 C272.55,715.50 276.42,717.30 278.60,719.40 C280.78,721.50 282.22,724.00 282.60,726.30 C282.98,728.60 282.13,731.38 280.90,733.20 C279.67,735.02 277.30,736.82 275.20,737.20 C273.10,737.58 270.40,736.93 268.30,735.50 C266.20,734.07 264.70,730.70 262.60,728.60 C260.50,726.50 257.80,724.62 255.70,722.90 C253.60,721.18 251.23,719.83 250.00,718.30 C248.77,716.77 248.38,714.93 248.30,713.70 C248.22,712.47 248.63,711.85 249.50,710.90Z" fill="#E14C63" filter="url(#sh_red)"/>
<path d="M249.50,710.90 C250.37,709.95 251.70,708.38 253.50,708.00 C255.30,707.62 257.63,707.65 260.30,708.60 C262.97,709.55 266.45,711.90 269.50,713.70 C272.55,715.50 276.42,717.30 278.60,719.40 C280.78,721.50 282.22,724.00 282.60,726.30 C282.98,728.60 282.13,731.38 280.90,733.20 C279.67,735.02 277.30,736.82 275.20,737.20 C273.10,737.58 270.40,736.93 268.30,735.50 C266.20,734.07 264.70,730.70 262.60,728.60 C260.50,726.50 257.80,724.62 255.70,722.90 C253.60,721.18 251.23,719.83 250.00,718.30 C248.77,716.77 248.38,714.93 248.30,713.70 C248.22,712.47 248.63,711.85 249.50,710.90Z" fill="none" stroke="#BE3048" stroke-width="0.45"/>
<path d="M217.40,737.70 C218.25,736.17 220.15,735.15 221.40,734.30 C222.65,733.45 223.93,732.60 224.90,732.60 C225.87,732.60 225.87,734.02 227.20,734.30 C228.53,734.58 230.82,735.07 232.90,734.30 C234.98,733.53 237.42,731.70 239.70,729.70 C241.98,727.70 244.68,723.82 246.60,722.30 C248.52,720.78 249.68,720.22 251.20,720.60 C252.72,720.98 253.80,723.37 255.70,724.60 C257.60,725.83 260.12,726.00 262.60,728.00 C265.08,730.00 267.93,734.88 270.60,736.60 C273.27,738.32 276.12,737.53 278.60,738.30 C281.08,739.07 283.60,739.58 285.50,741.20 C287.40,742.82 289.15,745.33 290.00,748.00 C290.85,750.67 290.78,754.15 290.60,757.20 C290.42,760.25 290.13,763.45 288.90,766.30 C287.67,769.15 285.48,772.58 283.20,774.30 C280.92,776.02 278.07,776.78 275.20,776.60 C272.33,776.42 268.87,774.72 266.00,773.20 C263.13,771.68 260.85,769.03 258.00,767.50 C255.15,765.97 252.33,764.87 248.90,764.00 C245.47,763.13 241.22,762.87 237.40,762.30 C233.58,761.73 228.85,761.45 226.00,760.60 C223.15,759.75 221.82,758.72 220.30,757.20 C218.78,755.68 217.57,753.78 216.90,751.50 C216.23,749.22 216.22,745.80 216.30,743.50 C216.38,741.20 216.55,739.23 217.40,737.70Z" fill="#66C1EC" filter="url(#sh_blue)"/>
<path d="M217.40,737.70 C218.25,736.17 220.15,735.15 221.40,734.30 C222.65,733.45 223.93,732.60 224.90,732.60 C225.87,732.60 225.87,734.02 227.20,734.30 C228.53,734.58 230.82,735.07 232.90,734.30 C234.98,733.53 237.42,731.70 239.70,729.70 C241.98,727.70 244.68,723.82 246.60,722.30 C248.52,720.78 249.68,720.22 251.20,720.60 C252.72,720.98 253.80,723.37 255.70,724.60 C257.60,725.83 260.12,726.00 262.60,728.00 C265.08,730.00 267.93,734.88 270.60,736.60 C273.27,738.32 276.12,737.53 278.60,738.30 C281.08,739.07 283.60,739.58 285.50,741.20 C287.40,742.82 289.15,745.33 290.00,748.00 C290.85,750.67 290.78,754.15 290.60,757.20 C290.42,760.25 290.13,763.45 288.90,766.30 C287.67,769.15 285.48,772.58 283.20,774.30 C280.92,776.02 278.07,776.78 275.20,776.60 C272.33,776.42 268.87,774.72 266.00,773.20 C263.13,771.68 260.85,769.03 258.00,767.50 C255.15,765.97 252.33,764.87 248.90,764.00 C245.47,763.13 241.22,762.87 237.40,762.30 C233.58,761.73 228.85,761.45 226.00,760.60 C223.15,759.75 221.82,758.72 220.30,757.20 C218.78,755.68 217.57,753.78 216.90,751.50 C216.23,749.22 216.22,745.80 216.30,743.50 C216.38,741.20 216.55,739.23 217.40,737.70Z" fill="none" stroke="#234F6B" stroke-width="0.75"/>
<text x="239.20" y="752.00" font-size="8.6" font-weight="bold" fill="#111111" stroke="#111111" stroke-width="0.55" textLength="27.6" lengthAdjust="spacingAndGlyphs">RUNX1</text>
<path d="M283.30,679.20 C283.78,678.18 284.93,676.48 286.20,676.00 C287.47,675.52 289.35,675.57 290.90,676.30 C292.45,677.03 294.23,679.43 295.50,680.40 C296.77,681.37 297.33,682.68 298.50,682.10 C299.67,681.52 300.27,678.35 302.50,676.90 C304.73,675.45 308.58,674.28 311.90,673.40 C315.22,672.52 319.28,672.38 322.40,671.60 C325.52,670.82 327.87,670.15 330.60,668.70 C333.33,667.25 336.07,664.75 338.80,662.90 C341.53,661.05 344.47,658.78 347.00,657.60 C349.53,656.42 351.87,655.50 354.00,655.80 C356.13,656.10 358.63,657.83 359.80,659.40 C360.97,660.97 361.38,663.07 361.00,665.20 C360.62,667.33 357.88,670.05 357.50,672.20 C357.12,674.35 359.48,676.35 358.70,678.10 C357.92,679.85 355.92,681.05 352.80,682.70 C349.68,684.35 343.90,686.23 340.00,688.00 C336.10,689.77 331.55,691.45 329.40,693.30 C327.25,695.15 328.45,697.15 327.10,699.10 C325.75,701.05 323.63,703.05 321.30,705.00 C318.97,706.95 315.45,709.35 313.10,710.80 C310.75,712.25 308.97,713.50 307.20,713.70 C305.43,713.90 303.77,713.65 302.50,712.00 C301.23,710.35 300.57,706.73 299.60,703.80 C298.63,700.87 297.97,696.93 296.70,694.40 C295.43,691.87 293.75,690.15 292.00,688.60 C290.25,687.05 287.65,686.18 286.20,685.10 C284.75,684.02 283.78,683.08 283.30,682.10 C282.82,681.12 282.82,680.22 283.30,679.20Z" fill="#8A5C8B" filter="url(#sh_purple)"/>
<ellipse cx="290.5" cy="683" rx="2.4" ry="6" transform="rotate(-50 290.5 683)" fill="#C4A6C6" opacity="0.85"/>
<path d="M283.30,679.20 C283.78,678.18 284.93,676.48 286.20,676.00 C287.47,675.52 289.35,675.57 290.90,676.30 C292.45,677.03 294.23,679.43 295.50,680.40 C296.77,681.37 297.33,682.68 298.50,682.10 C299.67,681.52 300.27,678.35 302.50,676.90 C304.73,675.45 308.58,674.28 311.90,673.40 C315.22,672.52 319.28,672.38 322.40,671.60 C325.52,670.82 327.87,670.15 330.60,668.70 C333.33,667.25 336.07,664.75 338.80,662.90 C341.53,661.05 344.47,658.78 347.00,657.60 C349.53,656.42 351.87,655.50 354.00,655.80 C356.13,656.10 358.63,657.83 359.80,659.40 C360.97,660.97 361.38,663.07 361.00,665.20 C360.62,667.33 357.88,670.05 357.50,672.20 C357.12,674.35 359.48,676.35 358.70,678.10 C357.92,679.85 355.92,681.05 352.80,682.70 C349.68,684.35 343.90,686.23 340.00,688.00 C336.10,689.77 331.55,691.45 329.40,693.30 C327.25,695.15 328.45,697.15 327.10,699.10 C325.75,701.05 323.63,703.05 321.30,705.00 C318.97,706.95 315.45,709.35 313.10,710.80 C310.75,712.25 308.97,713.50 307.20,713.70 C305.43,713.90 303.77,713.65 302.50,712.00 C301.23,710.35 300.57,706.73 299.60,703.80 C298.63,700.87 297.97,696.93 296.70,694.40 C295.43,691.87 293.75,690.15 292.00,688.60 C290.25,687.05 287.65,686.18 286.20,685.10 C284.75,684.02 283.78,683.08 283.30,682.10 C282.82,681.12 282.82,680.22 283.30,679.20Z" fill="none" stroke="#6A4170" stroke-width="0.6"/>
<text x="303.10" y="685.10" font-size="9.2" font-weight="bold" fill="#FFFFFF" stroke="#FFFFFF" stroke-width="0.6" textLength="35.7" lengthAdjust="spacingAndGlyphs">CBFA2T3</text>
<path d="M330.60,692.10 C331.87,690.55 333.97,689.67 336.50,688.60 C339.03,687.53 342.68,687.07 345.80,685.70 C348.92,684.33 352.57,681.38 355.20,680.40 C357.83,679.42 359.95,679.32 361.60,679.80 C363.25,680.28 364.72,681.65 365.10,683.30 C365.48,684.95 364.97,687.65 363.90,689.70 C362.83,691.75 360.93,693.83 358.70,695.60 C356.47,697.37 353.03,698.73 350.50,700.30 C347.97,701.87 345.83,704.03 343.50,705.00 C341.17,705.97 338.55,706.30 336.50,706.10 C334.45,705.90 332.47,705.17 331.20,703.80 C329.93,702.43 329.00,699.85 328.90,697.90 C328.80,695.95 329.33,693.65 330.60,692.10Z" fill="#E14C63" filter="url(#sh_red)"/>
<path d="M330.60,692.10 C331.87,690.55 333.97,689.67 336.50,688.60 C339.03,687.53 342.68,687.07 345.80,685.70 C348.92,684.33 352.57,681.38 355.20,680.40 C357.83,679.42 359.95,679.32 361.60,679.80 C363.25,680.28 364.72,681.65 365.10,683.30 C365.48,684.95 364.97,687.65 363.90,689.70 C362.83,691.75 360.93,693.83 358.70,695.60 C356.47,697.37 353.03,698.73 350.50,700.30 C347.97,701.87 345.83,704.03 343.50,705.00 C341.17,705.97 338.55,706.30 336.50,706.10 C334.45,705.90 332.47,705.17 331.20,703.80 C329.93,702.43 329.00,699.85 328.90,697.90 C328.80,695.95 329.33,693.65 330.60,692.10Z" fill="none" stroke="#BE3048" stroke-width="0.45"/>
<text x="319.6" y="731" font-size="9" font-weight="bold" stroke="#000" stroke-width="0.3" textLength="57.8" lengthAdjust="spacingAndGlyphs">Transcription -</text>
<path d="M339.4,758.5 L339.4,737.6 L364.2,737.6 M364.2,731.9 L364.2,743.4" fill="none" stroke="#000" stroke-width="2"/>
<path d="M423.6,725.2 L475.7,725.2 L475.7,717.5 L491.2,733.20 L475.7,748.9 L475.7,740.9 L423.6,740.9Z" fill="#E94F67"/>
<text x="510.6" y="738" font-size="17" stroke="#000" stroke-width="0.3" textLength="208.9" lengthAdjust="spacingAndGlyphs">slows down cell proliferation</text>
</svg></body></html>
